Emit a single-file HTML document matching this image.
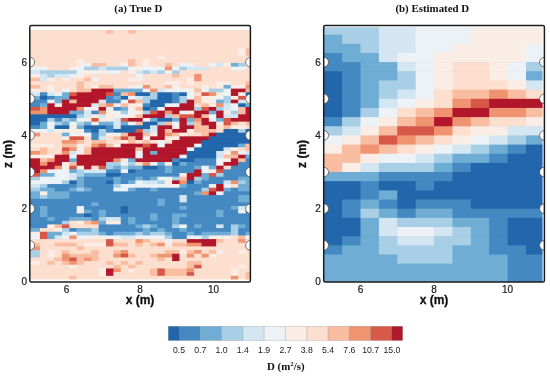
<!DOCTYPE html>
<html lang="en">
<head>
<meta charset="utf-8">
<title>True D and Estimated D</title>
<style>
html,body{margin:0;padding:0;background:#fff;}
body{width:550px;height:376px;overflow:hidden;}
svg{display:block;}
.tt{font-family:"Liberation Serif","DejaVu Serif",serif;font-weight:bold;font-size:10.9px;fill:#111;}
.tk{font-family:"Liberation Sans","DejaVu Sans",sans-serif;font-size:10px;fill:#1a1a1a;stroke:#1a1a1a;stroke-width:0.2px;}
.ax{font-family:"Liberation Sans","DejaVu Sans",sans-serif;font-weight:bold;font-size:12px;fill:#111;stroke:#111;stroke-width:0.3px;}
.cl{font-family:"Liberation Sans","DejaVu Sans",sans-serif;font-size:8.7px;fill:#222;}
.cb{font-family:"Liberation Serif","DejaVu Serif",serif;font-weight:bold;font-size:10.9px;fill:#111;}
</style>
</head>
<body>
<svg width="550" height="376" viewBox="0 0 550 376">
<defs>
<clipPath id="cl"><rect x="29.8" y="25.5" width="220.6" height="256.5"/></clipPath>
<clipPath id="cr"><rect x="323.7" y="25.5" width="220.7" height="256.5"/></clipPath>
<clipPath id="dl"><rect x="29.8" y="29.9" width="220.6" height="249.6"/></clipPath>
<clipPath id="dr"><rect x="323.7" y="27.2" width="218.9" height="254.8"/></clipPath>
<filter id="soft" x="-2%" y="-2%" width="104%" height="104%"><feGaussianBlur stdDeviation="0.45"/></filter>
</defs>
<rect width="550" height="376" fill="#fff"/>

<!-- panel (a) -->
<text x="138.3" y="12.4" text-anchor="middle" class="tt">(a) True D</text>
<g clip-path="url(#dl)"><g filter="url(#soft)">
<rect x="29.8" y="29.9" width="220.6" height="249.6" fill="#fddfcf"/>
<rect x="26.8" y="26.9" width="79.83" height="7.27" fill="#fddfcf"/>
<rect x="106.03" y="26.9" width="7.94" height="7.27" fill="#f9bea2"/>
<rect x="113.37" y="26.9" width="15.29" height="7.27" fill="#fddfcf"/>
<rect x="128.06" y="26.9" width="7.94" height="7.27" fill="#f9bea2"/>
<rect x="135.4" y="26.9" width="118.6" height="7.27" fill="#fddfcf"/>
<rect x="26.8" y="33.57" width="227.2" height="4.27" fill="#fddfcf"/>
<rect x="26.8" y="37.24" width="227.2" height="4.27" fill="#fddfcf"/>
<rect x="26.8" y="40.91" width="227.2" height="4.27" fill="#fddfcf"/>
<rect x="26.8" y="44.58" width="227.2" height="4.27" fill="#fddfcf"/>
<rect x="26.8" y="48.25" width="212" height="4.27" fill="#fddfcf"/>
<rect x="238.2" y="48.25" width="7.94" height="4.27" fill="#faede6"/>
<rect x="245.55" y="48.25" width="8.45" height="4.27" fill="#f9bea2"/>
<rect x="26.8" y="51.92" width="212" height="4.27" fill="#fddfcf"/>
<rect x="238.2" y="51.92" width="7.94" height="4.27" fill="#faede6"/>
<rect x="245.55" y="51.92" width="8.45" height="4.27" fill="#f9bea2"/>
<rect x="26.8" y="55.59" width="131.23" height="4.27" fill="#fddfcf"/>
<rect x="157.43" y="55.59" width="7.94" height="4.27" fill="#faede6"/>
<rect x="164.77" y="55.59" width="89.23" height="4.27" fill="#fddfcf"/>
<rect x="26.8" y="59.26" width="50.46" height="4.27" fill="#fddfcf"/>
<rect x="76.66" y="59.26" width="7.94" height="4.27" fill="#faede6"/>
<rect x="84" y="59.26" width="44.66" height="4.27" fill="#fddfcf"/>
<rect x="128.06" y="59.26" width="7.94" height="4.27" fill="#f9bea2"/>
<rect x="135.4" y="59.26" width="7.94" height="4.27" fill="#fddfcf"/>
<rect x="142.75" y="59.26" width="7.94" height="4.27" fill="#faede6"/>
<rect x="150.09" y="59.26" width="103.91" height="4.27" fill="#fddfcf"/>
<rect x="26.8" y="62.93" width="50.46" height="4.27" fill="#fddfcf"/>
<rect x="76.66" y="62.93" width="7.94" height="4.27" fill="#faede6"/>
<rect x="84" y="62.93" width="7.94" height="4.27" fill="#ecf2f6"/>
<rect x="91.34" y="62.93" width="15.29" height="4.27" fill="#f9bea2"/>
<rect x="106.03" y="62.93" width="15.29" height="4.27" fill="#fddfcf"/>
<rect x="120.72" y="62.93" width="7.94" height="4.27" fill="#ecf2f6"/>
<rect x="128.06" y="62.93" width="7.94" height="4.27" fill="#f9bea2"/>
<rect x="135.4" y="62.93" width="7.94" height="4.27" fill="#fddfcf"/>
<rect x="142.75" y="62.93" width="7.94" height="4.27" fill="#faede6"/>
<rect x="150.09" y="62.93" width="15.29" height="4.27" fill="#fddfcf"/>
<rect x="164.77" y="62.93" width="7.94" height="4.27" fill="#f9bea2"/>
<rect x="172.12" y="62.93" width="7.94" height="4.27" fill="#fddfcf"/>
<rect x="179.46" y="62.93" width="15.29" height="4.27" fill="#ecf2f6"/>
<rect x="194.15" y="62.93" width="15.29" height="4.27" fill="#fddfcf"/>
<rect x="208.83" y="62.93" width="7.94" height="4.27" fill="#ecf2f6"/>
<rect x="216.17" y="62.93" width="7.94" height="4.27" fill="#d4e6f1"/>
<rect x="223.52" y="62.93" width="7.94" height="4.27" fill="#faede6"/>
<rect x="230.86" y="62.93" width="7.94" height="4.27" fill="#6fadd4"/>
<rect x="238.2" y="62.93" width="7.94" height="4.27" fill="#a9cfe6"/>
<rect x="245.55" y="62.93" width="8.45" height="4.27" fill="#fddfcf"/>
<rect x="26.8" y="66.6" width="21.09" height="4.27" fill="#ecf2f6"/>
<rect x="47.29" y="66.6" width="22.63" height="4.27" fill="#fddfcf"/>
<rect x="69.31" y="66.6" width="7.94" height="4.27" fill="#faede6"/>
<rect x="76.66" y="66.6" width="7.94" height="4.27" fill="#ecf2f6"/>
<rect x="84" y="66.6" width="15.29" height="4.27" fill="#a9cfe6"/>
<rect x="98.69" y="66.6" width="7.94" height="4.27" fill="#d4e6f1"/>
<rect x="106.03" y="66.6" width="22.63" height="4.27" fill="#a9cfe6"/>
<rect x="128.06" y="66.6" width="7.94" height="4.27" fill="#ecf2f6"/>
<rect x="135.4" y="66.6" width="7.94" height="4.27" fill="#faede6"/>
<rect x="142.75" y="66.6" width="22.63" height="4.27" fill="#ecf2f6"/>
<rect x="164.77" y="66.6" width="7.94" height="4.27" fill="#f0936f"/>
<rect x="172.12" y="66.6" width="7.94" height="4.27" fill="#ecf2f6"/>
<rect x="179.46" y="66.6" width="7.94" height="4.27" fill="#a9cfe6"/>
<rect x="186.8" y="66.6" width="22.63" height="4.27" fill="#d4e6f1"/>
<rect x="208.83" y="66.6" width="22.63" height="4.27" fill="#fddfcf"/>
<rect x="230.86" y="66.6" width="15.29" height="4.27" fill="#ecf2f6"/>
<rect x="245.55" y="66.6" width="8.45" height="4.27" fill="#fddfcf"/>
<rect x="26.8" y="70.27" width="13.74" height="4.27" fill="#d4e6f1"/>
<rect x="39.94" y="70.27" width="37.32" height="4.27" fill="#a9cfe6"/>
<rect x="76.66" y="70.27" width="7.94" height="4.27" fill="#ecf2f6"/>
<rect x="84" y="70.27" width="7.94" height="4.27" fill="#faede6"/>
<rect x="91.34" y="70.27" width="7.94" height="4.27" fill="#ecf2f6"/>
<rect x="98.69" y="70.27" width="7.94" height="4.27" fill="#faede6"/>
<rect x="106.03" y="70.27" width="15.29" height="4.27" fill="#ecf2f6"/>
<rect x="120.72" y="70.27" width="7.94" height="4.27" fill="#fddfcf"/>
<rect x="128.06" y="70.27" width="7.94" height="4.27" fill="#faede6"/>
<rect x="135.4" y="70.27" width="7.94" height="4.27" fill="#d4e6f1"/>
<rect x="142.75" y="70.27" width="7.94" height="4.27" fill="#a9cfe6"/>
<rect x="150.09" y="70.27" width="7.94" height="4.27" fill="#d4e6f1"/>
<rect x="157.43" y="70.27" width="7.94" height="4.27" fill="#a9cfe6"/>
<rect x="164.77" y="70.27" width="7.94" height="4.27" fill="#faede6"/>
<rect x="172.12" y="70.27" width="7.94" height="4.27" fill="#a9cfe6"/>
<rect x="179.46" y="70.27" width="74.54" height="4.27" fill="#fddfcf"/>
<rect x="26.8" y="73.94" width="13.74" height="4.27" fill="#faede6"/>
<rect x="39.94" y="73.94" width="7.94" height="4.27" fill="#d4e6f1"/>
<rect x="47.29" y="73.94" width="7.94" height="4.27" fill="#a9cfe6"/>
<rect x="54.63" y="73.94" width="15.29" height="4.27" fill="#d4e6f1"/>
<rect x="69.31" y="73.94" width="7.94" height="4.27" fill="#ecf2f6"/>
<rect x="76.66" y="73.94" width="7.94" height="4.27" fill="#faede6"/>
<rect x="84" y="73.94" width="52" height="4.27" fill="#fddfcf"/>
<rect x="135.4" y="73.94" width="7.94" height="4.27" fill="#ecf2f6"/>
<rect x="142.75" y="73.94" width="29.97" height="4.27" fill="#fddfcf"/>
<rect x="172.12" y="73.94" width="7.94" height="4.27" fill="#f9bea2"/>
<rect x="179.46" y="73.94" width="15.29" height="4.27" fill="#fddfcf"/>
<rect x="194.15" y="73.94" width="7.94" height="4.27" fill="#f0936f"/>
<rect x="201.49" y="73.94" width="52.51" height="4.27" fill="#fddfcf"/>
<rect x="26.8" y="77.61" width="13.74" height="4.27" fill="#f9bea2"/>
<rect x="39.94" y="77.61" width="7.94" height="4.27" fill="#d4e6f1"/>
<rect x="47.29" y="77.61" width="7.94" height="4.27" fill="#faede6"/>
<rect x="54.63" y="77.61" width="7.94" height="4.27" fill="#fddfcf"/>
<rect x="61.97" y="77.61" width="7.94" height="4.27" fill="#faede6"/>
<rect x="69.31" y="77.61" width="15.29" height="4.27" fill="#fddfcf"/>
<rect x="84" y="77.61" width="7.94" height="4.27" fill="#f9bea2"/>
<rect x="91.34" y="77.61" width="7.94" height="4.27" fill="#ecf2f6"/>
<rect x="98.69" y="77.61" width="29.97" height="4.27" fill="#fddfcf"/>
<rect x="128.06" y="77.61" width="15.29" height="4.27" fill="#faede6"/>
<rect x="142.75" y="77.61" width="44.66" height="4.27" fill="#fddfcf"/>
<rect x="186.8" y="77.61" width="7.94" height="4.27" fill="#faede6"/>
<rect x="194.15" y="77.61" width="7.94" height="4.27" fill="#f0936f"/>
<rect x="201.49" y="77.61" width="52.51" height="4.27" fill="#fddfcf"/>
<rect x="26.8" y="81.28" width="50.46" height="4.27" fill="#fddfcf"/>
<rect x="76.66" y="81.28" width="7.94" height="4.27" fill="#f9bea2"/>
<rect x="84" y="81.28" width="81.37" height="4.27" fill="#fddfcf"/>
<rect x="164.77" y="81.28" width="15.29" height="4.27" fill="#faede6"/>
<rect x="179.46" y="81.28" width="7.94" height="4.27" fill="#fddfcf"/>
<rect x="186.8" y="81.28" width="7.94" height="4.27" fill="#faede6"/>
<rect x="194.15" y="81.28" width="22.63" height="4.27" fill="#fddfcf"/>
<rect x="216.17" y="81.28" width="15.29" height="4.27" fill="#faede6"/>
<rect x="230.86" y="81.28" width="15.29" height="4.27" fill="#fddfcf"/>
<rect x="245.55" y="81.28" width="8.45" height="4.27" fill="#f9bea2"/>
<rect x="26.8" y="84.95" width="13.74" height="4.27" fill="#f9bea2"/>
<rect x="39.94" y="84.95" width="7.94" height="4.27" fill="#fddfcf"/>
<rect x="47.29" y="84.95" width="7.94" height="4.27" fill="#faede6"/>
<rect x="54.63" y="84.95" width="22.63" height="4.27" fill="#fddfcf"/>
<rect x="76.66" y="84.95" width="7.94" height="4.27" fill="#f9bea2"/>
<rect x="84" y="84.95" width="7.94" height="4.27" fill="#fddfcf"/>
<rect x="91.34" y="84.95" width="7.94" height="4.27" fill="#faede6"/>
<rect x="98.69" y="84.95" width="15.29" height="4.27" fill="#f9bea2"/>
<rect x="113.37" y="84.95" width="15.29" height="4.27" fill="#fddfcf"/>
<rect x="128.06" y="84.95" width="7.94" height="4.27" fill="#faede6"/>
<rect x="135.4" y="84.95" width="7.94" height="4.27" fill="#ecf2f6"/>
<rect x="142.75" y="84.95" width="7.94" height="4.27" fill="#f0936f"/>
<rect x="150.09" y="84.95" width="15.29" height="4.27" fill="#fddfcf"/>
<rect x="164.77" y="84.95" width="7.94" height="4.27" fill="#f9bea2"/>
<rect x="172.12" y="84.95" width="7.94" height="4.27" fill="#faede6"/>
<rect x="179.46" y="84.95" width="22.63" height="4.27" fill="#fddfcf"/>
<rect x="201.49" y="84.95" width="7.94" height="4.27" fill="#faede6"/>
<rect x="208.83" y="84.95" width="7.94" height="4.27" fill="#fddfcf"/>
<rect x="216.17" y="84.95" width="7.94" height="4.27" fill="#faede6"/>
<rect x="223.52" y="84.95" width="7.94" height="4.27" fill="#6fadd4"/>
<rect x="230.86" y="84.95" width="15.29" height="4.27" fill="#faede6"/>
<rect x="245.55" y="84.95" width="8.45" height="4.27" fill="#f0936f"/>
<rect x="26.8" y="88.62" width="13.74" height="4.27" fill="#faede6"/>
<rect x="39.94" y="88.62" width="7.94" height="4.27" fill="#fddfcf"/>
<rect x="47.29" y="88.62" width="7.94" height="4.27" fill="#faede6"/>
<rect x="54.63" y="88.62" width="7.94" height="4.27" fill="#fddfcf"/>
<rect x="61.97" y="88.62" width="7.94" height="4.27" fill="#ecf2f6"/>
<rect x="69.31" y="88.62" width="7.94" height="4.27" fill="#fddfcf"/>
<rect x="76.66" y="88.62" width="15.29" height="4.27" fill="#f9bea2"/>
<rect x="91.34" y="88.62" width="22.63" height="4.27" fill="#b2182b"/>
<rect x="113.37" y="88.62" width="29.97" height="4.27" fill="#6fadd4"/>
<rect x="142.75" y="88.62" width="7.94" height="4.27" fill="#ecf2f6"/>
<rect x="150.09" y="88.62" width="7.94" height="4.27" fill="#f0936f"/>
<rect x="157.43" y="88.62" width="7.94" height="4.27" fill="#d4e6f1"/>
<rect x="164.77" y="88.62" width="29.97" height="4.27" fill="#ecf2f6"/>
<rect x="194.15" y="88.62" width="7.94" height="4.27" fill="#f9bea2"/>
<rect x="201.49" y="88.62" width="7.94" height="4.27" fill="#ecf2f6"/>
<rect x="208.83" y="88.62" width="15.29" height="4.27" fill="#a9cfe6"/>
<rect x="223.52" y="88.62" width="7.94" height="4.27" fill="#ecf2f6"/>
<rect x="230.86" y="88.62" width="15.29" height="4.27" fill="#b2182b"/>
<rect x="245.55" y="88.62" width="8.45" height="4.27" fill="#f9bea2"/>
<rect x="26.8" y="92.29" width="13.74" height="4.27" fill="#d4e6f1"/>
<rect x="39.94" y="92.29" width="7.94" height="4.27" fill="#4489c2"/>
<rect x="47.29" y="92.29" width="7.94" height="4.27" fill="#d4e6f1"/>
<rect x="54.63" y="92.29" width="7.94" height="4.27" fill="#ecf2f6"/>
<rect x="61.97" y="92.29" width="7.94" height="4.27" fill="#6fadd4"/>
<rect x="69.31" y="92.29" width="7.94" height="4.27" fill="#d75949"/>
<rect x="76.66" y="92.29" width="29.97" height="4.27" fill="#b2182b"/>
<rect x="106.03" y="92.29" width="7.94" height="4.27" fill="#d75949"/>
<rect x="113.37" y="92.29" width="7.94" height="4.27" fill="#4489c2"/>
<rect x="120.72" y="92.29" width="7.94" height="4.27" fill="#f9bea2"/>
<rect x="128.06" y="92.29" width="7.94" height="4.27" fill="#f0936f"/>
<rect x="135.4" y="92.29" width="15.29" height="4.27" fill="#2166ac"/>
<rect x="150.09" y="92.29" width="7.94" height="4.27" fill="#a9cfe6"/>
<rect x="157.43" y="92.29" width="15.29" height="4.27" fill="#2166ac"/>
<rect x="172.12" y="92.29" width="7.94" height="4.27" fill="#4489c2"/>
<rect x="179.46" y="92.29" width="7.94" height="4.27" fill="#2166ac"/>
<rect x="186.8" y="92.29" width="7.94" height="4.27" fill="#ecf2f6"/>
<rect x="194.15" y="92.29" width="7.94" height="4.27" fill="#fddfcf"/>
<rect x="201.49" y="92.29" width="7.94" height="4.27" fill="#d75949"/>
<rect x="208.83" y="92.29" width="7.94" height="4.27" fill="#f0936f"/>
<rect x="216.17" y="92.29" width="7.94" height="4.27" fill="#faede6"/>
<rect x="223.52" y="92.29" width="7.94" height="4.27" fill="#ecf2f6"/>
<rect x="230.86" y="92.29" width="7.94" height="4.27" fill="#b2182b"/>
<rect x="238.2" y="92.29" width="7.94" height="4.27" fill="#faede6"/>
<rect x="245.55" y="92.29" width="8.45" height="4.27" fill="#2166ac"/>
<rect x="26.8" y="95.96" width="13.74" height="4.27" fill="#6fadd4"/>
<rect x="39.94" y="95.96" width="7.94" height="4.27" fill="#2166ac"/>
<rect x="47.29" y="95.96" width="7.94" height="4.27" fill="#4489c2"/>
<rect x="54.63" y="95.96" width="15.29" height="4.27" fill="#6fadd4"/>
<rect x="69.31" y="95.96" width="37.32" height="4.27" fill="#b2182b"/>
<rect x="106.03" y="95.96" width="7.94" height="4.27" fill="#4489c2"/>
<rect x="113.37" y="95.96" width="7.94" height="4.27" fill="#6fadd4"/>
<rect x="120.72" y="95.96" width="7.94" height="4.27" fill="#2166ac"/>
<rect x="128.06" y="95.96" width="7.94" height="4.27" fill="#ecf2f6"/>
<rect x="135.4" y="95.96" width="7.94" height="4.27" fill="#d4e6f1"/>
<rect x="142.75" y="95.96" width="15.29" height="4.27" fill="#a9cfe6"/>
<rect x="157.43" y="95.96" width="15.29" height="4.27" fill="#2166ac"/>
<rect x="172.12" y="95.96" width="7.94" height="4.27" fill="#4489c2"/>
<rect x="179.46" y="95.96" width="7.94" height="4.27" fill="#a9cfe6"/>
<rect x="186.8" y="95.96" width="7.94" height="4.27" fill="#ecf2f6"/>
<rect x="194.15" y="95.96" width="7.94" height="4.27" fill="#f9bea2"/>
<rect x="201.49" y="95.96" width="15.29" height="4.27" fill="#faede6"/>
<rect x="216.17" y="95.96" width="7.94" height="4.27" fill="#ecf2f6"/>
<rect x="223.52" y="95.96" width="7.94" height="4.27" fill="#a9cfe6"/>
<rect x="230.86" y="95.96" width="7.94" height="4.27" fill="#faede6"/>
<rect x="238.2" y="95.96" width="7.94" height="4.27" fill="#d75949"/>
<rect x="245.55" y="95.96" width="8.45" height="4.27" fill="#ecf2f6"/>
<rect x="26.8" y="99.63" width="21.09" height="4.27" fill="#4489c2"/>
<rect x="47.29" y="99.63" width="7.94" height="4.27" fill="#ecf2f6"/>
<rect x="54.63" y="99.63" width="7.94" height="4.27" fill="#6fadd4"/>
<rect x="61.97" y="99.63" width="7.94" height="4.27" fill="#b2182b"/>
<rect x="69.31" y="99.63" width="7.94" height="4.27" fill="#f9bea2"/>
<rect x="76.66" y="99.63" width="22.63" height="4.27" fill="#b2182b"/>
<rect x="98.69" y="99.63" width="7.94" height="4.27" fill="#d4e6f1"/>
<rect x="106.03" y="99.63" width="15.29" height="4.27" fill="#4489c2"/>
<rect x="120.72" y="99.63" width="7.94" height="4.27" fill="#ecf2f6"/>
<rect x="128.06" y="99.63" width="7.94" height="4.27" fill="#d75949"/>
<rect x="135.4" y="99.63" width="7.94" height="4.27" fill="#f9bea2"/>
<rect x="142.75" y="99.63" width="7.94" height="4.27" fill="#a9cfe6"/>
<rect x="150.09" y="99.63" width="22.63" height="4.27" fill="#2166ac"/>
<rect x="172.12" y="99.63" width="7.94" height="4.27" fill="#4489c2"/>
<rect x="179.46" y="99.63" width="7.94" height="4.27" fill="#a9cfe6"/>
<rect x="186.8" y="99.63" width="7.94" height="4.27" fill="#b2182b"/>
<rect x="194.15" y="99.63" width="7.94" height="4.27" fill="#f9bea2"/>
<rect x="201.49" y="99.63" width="15.29" height="4.27" fill="#faede6"/>
<rect x="216.17" y="99.63" width="7.94" height="4.27" fill="#6fadd4"/>
<rect x="223.52" y="99.63" width="7.94" height="4.27" fill="#a9cfe6"/>
<rect x="230.86" y="99.63" width="7.94" height="4.27" fill="#b2182b"/>
<rect x="238.2" y="99.63" width="7.94" height="4.27" fill="#d4e6f1"/>
<rect x="245.55" y="99.63" width="8.45" height="4.27" fill="#ecf2f6"/>
<rect x="26.8" y="103.3" width="13.74" height="4.27" fill="#4489c2"/>
<rect x="39.94" y="103.3" width="7.94" height="4.27" fill="#6fadd4"/>
<rect x="47.29" y="103.3" width="7.94" height="4.27" fill="#b2182b"/>
<rect x="54.63" y="103.3" width="7.94" height="4.27" fill="#faede6"/>
<rect x="61.97" y="103.3" width="29.97" height="4.27" fill="#b2182b"/>
<rect x="91.34" y="103.3" width="7.94" height="4.27" fill="#d4e6f1"/>
<rect x="98.69" y="103.3" width="7.94" height="4.27" fill="#f9bea2"/>
<rect x="106.03" y="103.3" width="7.94" height="4.27" fill="#f0936f"/>
<rect x="113.37" y="103.3" width="7.94" height="4.27" fill="#faede6"/>
<rect x="120.72" y="103.3" width="7.94" height="4.27" fill="#f9bea2"/>
<rect x="128.06" y="103.3" width="15.29" height="4.27" fill="#faede6"/>
<rect x="142.75" y="103.3" width="7.94" height="4.27" fill="#4489c2"/>
<rect x="150.09" y="103.3" width="15.29" height="4.27" fill="#2166ac"/>
<rect x="164.77" y="103.3" width="15.29" height="4.27" fill="#ecf2f6"/>
<rect x="179.46" y="103.3" width="15.29" height="4.27" fill="#b2182b"/>
<rect x="194.15" y="103.3" width="7.94" height="4.27" fill="#fddfcf"/>
<rect x="201.49" y="103.3" width="7.94" height="4.27" fill="#f9bea2"/>
<rect x="208.83" y="103.3" width="7.94" height="4.27" fill="#faede6"/>
<rect x="216.17" y="103.3" width="7.94" height="4.27" fill="#f0936f"/>
<rect x="223.52" y="103.3" width="7.94" height="4.27" fill="#d4e6f1"/>
<rect x="230.86" y="103.3" width="7.94" height="4.27" fill="#ecf2f6"/>
<rect x="238.2" y="103.3" width="7.94" height="4.27" fill="#2166ac"/>
<rect x="245.55" y="103.3" width="8.45" height="4.27" fill="#6fadd4"/>
<rect x="26.8" y="106.97" width="13.74" height="4.27" fill="#d75949"/>
<rect x="39.94" y="106.97" width="7.94" height="4.27" fill="#f0936f"/>
<rect x="47.29" y="106.97" width="29.97" height="4.27" fill="#b2182b"/>
<rect x="76.66" y="106.97" width="7.94" height="4.27" fill="#f0936f"/>
<rect x="84" y="106.97" width="7.94" height="4.27" fill="#ecf2f6"/>
<rect x="91.34" y="106.97" width="7.94" height="4.27" fill="#faede6"/>
<rect x="98.69" y="106.97" width="7.94" height="4.27" fill="#b2182b"/>
<rect x="106.03" y="106.97" width="7.94" height="4.27" fill="#ecf2f6"/>
<rect x="113.37" y="106.97" width="7.94" height="4.27" fill="#4489c2"/>
<rect x="120.72" y="106.97" width="7.94" height="4.27" fill="#6fadd4"/>
<rect x="128.06" y="106.97" width="7.94" height="4.27" fill="#faede6"/>
<rect x="135.4" y="106.97" width="7.94" height="4.27" fill="#f9bea2"/>
<rect x="142.75" y="106.97" width="7.94" height="4.27" fill="#2166ac"/>
<rect x="150.09" y="106.97" width="7.94" height="4.27" fill="#4489c2"/>
<rect x="157.43" y="106.97" width="7.94" height="4.27" fill="#ecf2f6"/>
<rect x="164.77" y="106.97" width="29.97" height="4.27" fill="#b2182b"/>
<rect x="194.15" y="106.97" width="7.94" height="4.27" fill="#a9cfe6"/>
<rect x="201.49" y="106.97" width="7.94" height="4.27" fill="#d75949"/>
<rect x="208.83" y="106.97" width="7.94" height="4.27" fill="#b2182b"/>
<rect x="216.17" y="106.97" width="7.94" height="4.27" fill="#a9cfe6"/>
<rect x="223.52" y="106.97" width="7.94" height="4.27" fill="#d4e6f1"/>
<rect x="230.86" y="106.97" width="7.94" height="4.27" fill="#ecf2f6"/>
<rect x="238.2" y="106.97" width="7.94" height="4.27" fill="#f9bea2"/>
<rect x="245.55" y="106.97" width="8.45" height="4.27" fill="#b2182b"/>
<rect x="26.8" y="110.64" width="21.09" height="4.27" fill="#f0936f"/>
<rect x="47.29" y="110.64" width="22.63" height="4.27" fill="#b2182b"/>
<rect x="69.31" y="110.64" width="15.29" height="4.27" fill="#6fadd4"/>
<rect x="84" y="110.64" width="7.94" height="4.27" fill="#d4e6f1"/>
<rect x="91.34" y="110.64" width="7.94" height="4.27" fill="#4489c2"/>
<rect x="98.69" y="110.64" width="7.94" height="4.27" fill="#f0936f"/>
<rect x="106.03" y="110.64" width="7.94" height="4.27" fill="#faede6"/>
<rect x="113.37" y="110.64" width="7.94" height="4.27" fill="#ecf2f6"/>
<rect x="120.72" y="110.64" width="7.94" height="4.27" fill="#a9cfe6"/>
<rect x="128.06" y="110.64" width="7.94" height="4.27" fill="#ecf2f6"/>
<rect x="135.4" y="110.64" width="7.94" height="4.27" fill="#faede6"/>
<rect x="142.75" y="110.64" width="7.94" height="4.27" fill="#a9cfe6"/>
<rect x="150.09" y="110.64" width="7.94" height="4.27" fill="#d75949"/>
<rect x="157.43" y="110.64" width="7.94" height="4.27" fill="#b2182b"/>
<rect x="164.77" y="110.64" width="7.94" height="4.27" fill="#f0936f"/>
<rect x="172.12" y="110.64" width="7.94" height="4.27" fill="#b2182b"/>
<rect x="179.46" y="110.64" width="7.94" height="4.27" fill="#ecf2f6"/>
<rect x="186.8" y="110.64" width="7.94" height="4.27" fill="#faede6"/>
<rect x="194.15" y="110.64" width="15.29" height="4.27" fill="#b2182b"/>
<rect x="208.83" y="110.64" width="7.94" height="4.27" fill="#6fadd4"/>
<rect x="216.17" y="110.64" width="7.94" height="4.27" fill="#b2182b"/>
<rect x="223.52" y="110.64" width="7.94" height="4.27" fill="#faede6"/>
<rect x="230.86" y="110.64" width="7.94" height="4.27" fill="#a9cfe6"/>
<rect x="238.2" y="110.64" width="7.94" height="4.27" fill="#f9bea2"/>
<rect x="245.55" y="110.64" width="8.45" height="4.27" fill="#b2182b"/>
<rect x="26.8" y="114.31" width="50.46" height="4.27" fill="#2166ac"/>
<rect x="76.66" y="114.31" width="7.94" height="4.27" fill="#a9cfe6"/>
<rect x="84" y="114.31" width="7.94" height="4.27" fill="#d4e6f1"/>
<rect x="91.34" y="114.31" width="7.94" height="4.27" fill="#faede6"/>
<rect x="98.69" y="114.31" width="7.94" height="4.27" fill="#d4e6f1"/>
<rect x="106.03" y="114.31" width="15.29" height="4.27" fill="#faede6"/>
<rect x="120.72" y="114.31" width="7.94" height="4.27" fill="#ecf2f6"/>
<rect x="128.06" y="114.31" width="7.94" height="4.27" fill="#faede6"/>
<rect x="135.4" y="114.31" width="7.94" height="4.27" fill="#f9bea2"/>
<rect x="142.75" y="114.31" width="22.63" height="4.27" fill="#b2182b"/>
<rect x="164.77" y="114.31" width="7.94" height="4.27" fill="#a9cfe6"/>
<rect x="172.12" y="114.31" width="7.94" height="4.27" fill="#f9bea2"/>
<rect x="179.46" y="114.31" width="15.29" height="4.27" fill="#d75949"/>
<rect x="194.15" y="114.31" width="7.94" height="4.27" fill="#b2182b"/>
<rect x="201.49" y="114.31" width="7.94" height="4.27" fill="#f9bea2"/>
<rect x="208.83" y="114.31" width="7.94" height="4.27" fill="#ecf2f6"/>
<rect x="216.17" y="114.31" width="7.94" height="4.27" fill="#b2182b"/>
<rect x="223.52" y="114.31" width="15.29" height="4.27" fill="#d4e6f1"/>
<rect x="238.2" y="114.31" width="15.8" height="4.27" fill="#b2182b"/>
<rect x="26.8" y="117.98" width="21.09" height="4.27" fill="#2166ac"/>
<rect x="47.29" y="117.98" width="7.94" height="4.27" fill="#a9cfe6"/>
<rect x="54.63" y="117.98" width="7.94" height="4.27" fill="#4489c2"/>
<rect x="61.97" y="117.98" width="7.94" height="4.27" fill="#a9cfe6"/>
<rect x="69.31" y="117.98" width="7.94" height="4.27" fill="#6fadd4"/>
<rect x="76.66" y="117.98" width="7.94" height="4.27" fill="#ecf2f6"/>
<rect x="84" y="117.98" width="7.94" height="4.27" fill="#faede6"/>
<rect x="91.34" y="117.98" width="7.94" height="4.27" fill="#d75949"/>
<rect x="98.69" y="117.98" width="15.29" height="4.27" fill="#faede6"/>
<rect x="113.37" y="117.98" width="7.94" height="4.27" fill="#d4e6f1"/>
<rect x="120.72" y="117.98" width="7.94" height="4.27" fill="#d75949"/>
<rect x="128.06" y="117.98" width="15.29" height="4.27" fill="#b2182b"/>
<rect x="142.75" y="117.98" width="7.94" height="4.27" fill="#faede6"/>
<rect x="150.09" y="117.98" width="7.94" height="4.27" fill="#6fadd4"/>
<rect x="157.43" y="117.98" width="15.29" height="4.27" fill="#2166ac"/>
<rect x="172.12" y="117.98" width="7.94" height="4.27" fill="#6fadd4"/>
<rect x="179.46" y="117.98" width="7.94" height="4.27" fill="#b2182b"/>
<rect x="186.8" y="117.98" width="7.94" height="4.27" fill="#6fadd4"/>
<rect x="194.15" y="117.98" width="7.94" height="4.27" fill="#f0936f"/>
<rect x="201.49" y="117.98" width="7.94" height="4.27" fill="#b2182b"/>
<rect x="208.83" y="117.98" width="7.94" height="4.27" fill="#ecf2f6"/>
<rect x="216.17" y="117.98" width="7.94" height="4.27" fill="#6fadd4"/>
<rect x="223.52" y="117.98" width="7.94" height="4.27" fill="#d75949"/>
<rect x="230.86" y="117.98" width="23.14" height="4.27" fill="#b2182b"/>
<rect x="26.8" y="121.65" width="13.74" height="4.27" fill="#2166ac"/>
<rect x="39.94" y="121.65" width="7.94" height="4.27" fill="#6fadd4"/>
<rect x="47.29" y="121.65" width="7.94" height="4.27" fill="#ecf2f6"/>
<rect x="54.63" y="121.65" width="7.94" height="4.27" fill="#a9cfe6"/>
<rect x="61.97" y="121.65" width="7.94" height="4.27" fill="#6fadd4"/>
<rect x="69.31" y="121.65" width="7.94" height="4.27" fill="#ecf2f6"/>
<rect x="76.66" y="121.65" width="7.94" height="4.27" fill="#a9cfe6"/>
<rect x="84" y="121.65" width="7.94" height="4.27" fill="#6fadd4"/>
<rect x="91.34" y="121.65" width="7.94" height="4.27" fill="#faede6"/>
<rect x="98.69" y="121.65" width="15.29" height="4.27" fill="#6fadd4"/>
<rect x="113.37" y="121.65" width="7.94" height="4.27" fill="#d4e6f1"/>
<rect x="120.72" y="121.65" width="7.94" height="4.27" fill="#6fadd4"/>
<rect x="128.06" y="121.65" width="7.94" height="4.27" fill="#ecf2f6"/>
<rect x="135.4" y="121.65" width="7.94" height="4.27" fill="#f9bea2"/>
<rect x="142.75" y="121.65" width="15.29" height="4.27" fill="#2166ac"/>
<rect x="157.43" y="121.65" width="7.94" height="4.27" fill="#a9cfe6"/>
<rect x="164.77" y="121.65" width="7.94" height="4.27" fill="#f9bea2"/>
<rect x="172.12" y="121.65" width="7.94" height="4.27" fill="#ecf2f6"/>
<rect x="179.46" y="121.65" width="7.94" height="4.27" fill="#b2182b"/>
<rect x="186.8" y="121.65" width="7.94" height="4.27" fill="#a9cfe6"/>
<rect x="194.15" y="121.65" width="7.94" height="4.27" fill="#f9bea2"/>
<rect x="201.49" y="121.65" width="15.29" height="4.27" fill="#b2182b"/>
<rect x="216.17" y="121.65" width="7.94" height="4.27" fill="#faede6"/>
<rect x="223.52" y="121.65" width="7.94" height="4.27" fill="#d75949"/>
<rect x="230.86" y="121.65" width="7.94" height="4.27" fill="#f9bea2"/>
<rect x="238.2" y="121.65" width="7.94" height="4.27" fill="#fddfcf"/>
<rect x="245.55" y="121.65" width="8.45" height="4.27" fill="#f9bea2"/>
<rect x="26.8" y="125.32" width="13.74" height="4.27" fill="#4489c2"/>
<rect x="39.94" y="125.32" width="7.94" height="4.27" fill="#6fadd4"/>
<rect x="47.29" y="125.32" width="7.94" height="4.27" fill="#ecf2f6"/>
<rect x="54.63" y="125.32" width="15.29" height="4.27" fill="#2166ac"/>
<rect x="69.31" y="125.32" width="7.94" height="4.27" fill="#faede6"/>
<rect x="76.66" y="125.32" width="7.94" height="4.27" fill="#6fadd4"/>
<rect x="84" y="125.32" width="22.63" height="4.27" fill="#2166ac"/>
<rect x="106.03" y="125.32" width="7.94" height="4.27" fill="#4489c2"/>
<rect x="113.37" y="125.32" width="7.94" height="4.27" fill="#d4e6f1"/>
<rect x="120.72" y="125.32" width="29.97" height="4.27" fill="#2166ac"/>
<rect x="150.09" y="125.32" width="7.94" height="4.27" fill="#d4e6f1"/>
<rect x="157.43" y="125.32" width="15.29" height="4.27" fill="#b2182b"/>
<rect x="172.12" y="125.32" width="7.94" height="4.27" fill="#faede6"/>
<rect x="179.46" y="125.32" width="15.29" height="4.27" fill="#b2182b"/>
<rect x="194.15" y="125.32" width="15.29" height="4.27" fill="#f9bea2"/>
<rect x="208.83" y="125.32" width="7.94" height="4.27" fill="#b2182b"/>
<rect x="216.17" y="125.32" width="7.94" height="4.27" fill="#fddfcf"/>
<rect x="223.52" y="125.32" width="7.94" height="4.27" fill="#f9bea2"/>
<rect x="230.86" y="125.32" width="15.29" height="4.27" fill="#faede6"/>
<rect x="245.55" y="125.32" width="8.45" height="4.27" fill="#fddfcf"/>
<rect x="26.8" y="128.99" width="21.09" height="4.27" fill="#ecf2f6"/>
<rect x="47.29" y="128.99" width="7.94" height="4.27" fill="#d4e6f1"/>
<rect x="54.63" y="128.99" width="29.97" height="4.27" fill="#faede6"/>
<rect x="84" y="128.99" width="7.94" height="4.27" fill="#4489c2"/>
<rect x="91.34" y="128.99" width="7.94" height="4.27" fill="#2166ac"/>
<rect x="98.69" y="128.99" width="7.94" height="4.27" fill="#a9cfe6"/>
<rect x="106.03" y="128.99" width="7.94" height="4.27" fill="#4489c2"/>
<rect x="113.37" y="128.99" width="22.63" height="4.27" fill="#2166ac"/>
<rect x="135.4" y="128.99" width="7.94" height="4.27" fill="#d75949"/>
<rect x="142.75" y="128.99" width="7.94" height="4.27" fill="#a9cfe6"/>
<rect x="150.09" y="128.99" width="7.94" height="4.27" fill="#d4e6f1"/>
<rect x="157.43" y="128.99" width="7.94" height="4.27" fill="#b2182b"/>
<rect x="164.77" y="128.99" width="7.94" height="4.27" fill="#f9bea2"/>
<rect x="172.12" y="128.99" width="15.29" height="4.27" fill="#b2182b"/>
<rect x="186.8" y="128.99" width="7.94" height="4.27" fill="#faede6"/>
<rect x="194.15" y="128.99" width="22.63" height="4.27" fill="#f9bea2"/>
<rect x="216.17" y="128.99" width="7.94" height="4.27" fill="#fddfcf"/>
<rect x="223.52" y="128.99" width="15.29" height="4.27" fill="#2166ac"/>
<rect x="238.2" y="128.99" width="7.94" height="4.27" fill="#a9cfe6"/>
<rect x="245.55" y="128.99" width="8.45" height="4.27" fill="#2166ac"/>
<rect x="26.8" y="132.66" width="13.74" height="4.27" fill="#f0936f"/>
<rect x="39.94" y="132.66" width="22.63" height="4.27" fill="#fddfcf"/>
<rect x="61.97" y="132.66" width="7.94" height="4.27" fill="#6fadd4"/>
<rect x="69.31" y="132.66" width="7.94" height="4.27" fill="#ecf2f6"/>
<rect x="76.66" y="132.66" width="7.94" height="4.27" fill="#faede6"/>
<rect x="84" y="132.66" width="7.94" height="4.27" fill="#ecf2f6"/>
<rect x="91.34" y="132.66" width="7.94" height="4.27" fill="#4489c2"/>
<rect x="98.69" y="132.66" width="7.94" height="4.27" fill="#a9cfe6"/>
<rect x="106.03" y="132.66" width="7.94" height="4.27" fill="#faede6"/>
<rect x="113.37" y="132.66" width="7.94" height="4.27" fill="#ecf2f6"/>
<rect x="120.72" y="132.66" width="7.94" height="4.27" fill="#f9bea2"/>
<rect x="128.06" y="132.66" width="15.29" height="4.27" fill="#b2182b"/>
<rect x="142.75" y="132.66" width="7.94" height="4.27" fill="#f9bea2"/>
<rect x="150.09" y="132.66" width="7.94" height="4.27" fill="#faede6"/>
<rect x="157.43" y="132.66" width="7.94" height="4.27" fill="#b2182b"/>
<rect x="164.77" y="132.66" width="7.94" height="4.27" fill="#f0936f"/>
<rect x="172.12" y="132.66" width="7.94" height="4.27" fill="#f9bea2"/>
<rect x="179.46" y="132.66" width="7.94" height="4.27" fill="#faede6"/>
<rect x="186.8" y="132.66" width="15.29" height="4.27" fill="#fddfcf"/>
<rect x="201.49" y="132.66" width="7.94" height="4.27" fill="#f9bea2"/>
<rect x="208.83" y="132.66" width="7.94" height="4.27" fill="#b2182b"/>
<rect x="216.17" y="132.66" width="37.83" height="4.27" fill="#2166ac"/>
<rect x="26.8" y="136.33" width="35.77" height="4.27" fill="#fddfcf"/>
<rect x="61.97" y="136.33" width="7.94" height="4.27" fill="#faede6"/>
<rect x="69.31" y="136.33" width="15.29" height="4.27" fill="#d75949"/>
<rect x="84" y="136.33" width="7.94" height="4.27" fill="#fddfcf"/>
<rect x="91.34" y="136.33" width="7.94" height="4.27" fill="#4489c2"/>
<rect x="98.69" y="136.33" width="7.94" height="4.27" fill="#d4e6f1"/>
<rect x="106.03" y="136.33" width="7.94" height="4.27" fill="#fddfcf"/>
<rect x="113.37" y="136.33" width="7.94" height="4.27" fill="#f9bea2"/>
<rect x="120.72" y="136.33" width="7.94" height="4.27" fill="#d75949"/>
<rect x="128.06" y="136.33" width="7.94" height="4.27" fill="#f9bea2"/>
<rect x="135.4" y="136.33" width="7.94" height="4.27" fill="#b2182b"/>
<rect x="142.75" y="136.33" width="7.94" height="4.27" fill="#ecf2f6"/>
<rect x="150.09" y="136.33" width="15.29" height="4.27" fill="#b2182b"/>
<rect x="164.77" y="136.33" width="15.29" height="4.27" fill="#faede6"/>
<rect x="179.46" y="136.33" width="29.97" height="4.27" fill="#b2182b"/>
<rect x="208.83" y="136.33" width="45.17" height="4.27" fill="#2166ac"/>
<rect x="26.8" y="140" width="35.77" height="4.27" fill="#fddfcf"/>
<rect x="61.97" y="140" width="15.29" height="4.27" fill="#f0936f"/>
<rect x="76.66" y="140" width="7.94" height="4.27" fill="#f9bea2"/>
<rect x="84" y="140" width="7.94" height="4.27" fill="#fddfcf"/>
<rect x="91.34" y="140" width="15.29" height="4.27" fill="#f9bea2"/>
<rect x="106.03" y="140" width="15.29" height="4.27" fill="#fddfcf"/>
<rect x="120.72" y="140" width="7.94" height="4.27" fill="#faede6"/>
<rect x="128.06" y="140" width="7.94" height="4.27" fill="#f9bea2"/>
<rect x="135.4" y="140" width="7.94" height="4.27" fill="#fddfcf"/>
<rect x="142.75" y="140" width="7.94" height="4.27" fill="#f9bea2"/>
<rect x="150.09" y="140" width="7.94" height="4.27" fill="#fddfcf"/>
<rect x="157.43" y="140" width="7.94" height="4.27" fill="#ecf2f6"/>
<rect x="164.77" y="140" width="7.94" height="4.27" fill="#fddfcf"/>
<rect x="172.12" y="140" width="29.97" height="4.27" fill="#b2182b"/>
<rect x="201.49" y="140" width="52.51" height="4.27" fill="#2166ac"/>
<rect x="26.8" y="143.67" width="28.43" height="4.27" fill="#faede6"/>
<rect x="54.63" y="143.67" width="7.94" height="4.27" fill="#fddfcf"/>
<rect x="61.97" y="143.67" width="15.29" height="4.27" fill="#f9bea2"/>
<rect x="76.66" y="143.67" width="7.94" height="4.27" fill="#faede6"/>
<rect x="84" y="143.67" width="7.94" height="4.27" fill="#fddfcf"/>
<rect x="91.34" y="143.67" width="7.94" height="4.27" fill="#f0936f"/>
<rect x="98.69" y="143.67" width="7.94" height="4.27" fill="#d75949"/>
<rect x="106.03" y="143.67" width="7.94" height="4.27" fill="#f9bea2"/>
<rect x="113.37" y="143.67" width="7.94" height="4.27" fill="#faede6"/>
<rect x="120.72" y="143.67" width="22.63" height="4.27" fill="#b2182b"/>
<rect x="142.75" y="143.67" width="7.94" height="4.27" fill="#d75949"/>
<rect x="150.09" y="143.67" width="7.94" height="4.27" fill="#b2182b"/>
<rect x="157.43" y="143.67" width="7.94" height="4.27" fill="#ecf2f6"/>
<rect x="164.77" y="143.67" width="29.97" height="4.27" fill="#b2182b"/>
<rect x="194.15" y="143.67" width="7.94" height="4.27" fill="#ecf2f6"/>
<rect x="201.49" y="143.67" width="37.31" height="4.27" fill="#2166ac"/>
<rect x="238.2" y="143.67" width="7.94" height="4.27" fill="#6fadd4"/>
<rect x="245.55" y="143.67" width="8.45" height="4.27" fill="#f9bea2"/>
<rect x="26.8" y="147.34" width="13.74" height="4.27" fill="#fddfcf"/>
<rect x="39.94" y="147.34" width="7.94" height="4.27" fill="#f9bea2"/>
<rect x="47.29" y="147.34" width="15.29" height="4.27" fill="#fddfcf"/>
<rect x="61.97" y="147.34" width="7.94" height="4.27" fill="#d75949"/>
<rect x="69.31" y="147.34" width="7.94" height="4.27" fill="#f0936f"/>
<rect x="76.66" y="147.34" width="7.94" height="4.27" fill="#ecf2f6"/>
<rect x="84" y="147.34" width="7.94" height="4.27" fill="#f9bea2"/>
<rect x="91.34" y="147.34" width="44.66" height="4.27" fill="#b2182b"/>
<rect x="135.4" y="147.34" width="7.94" height="4.27" fill="#f9bea2"/>
<rect x="142.75" y="147.34" width="44.66" height="4.27" fill="#b2182b"/>
<rect x="186.8" y="147.34" width="7.94" height="4.27" fill="#ecf2f6"/>
<rect x="194.15" y="147.34" width="29.97" height="4.27" fill="#2166ac"/>
<rect x="223.52" y="147.34" width="7.94" height="4.27" fill="#d4e6f1"/>
<rect x="230.86" y="147.34" width="7.94" height="4.27" fill="#faede6"/>
<rect x="238.2" y="147.34" width="7.94" height="4.27" fill="#fddfcf"/>
<rect x="245.55" y="147.34" width="8.45" height="4.27" fill="#f9bea2"/>
<rect x="26.8" y="151.01" width="13.74" height="4.27" fill="#f0936f"/>
<rect x="39.94" y="151.01" width="7.94" height="4.27" fill="#f9bea2"/>
<rect x="47.29" y="151.01" width="15.29" height="4.27" fill="#fddfcf"/>
<rect x="61.97" y="151.01" width="7.94" height="4.27" fill="#f0936f"/>
<rect x="69.31" y="151.01" width="7.94" height="4.27" fill="#d4e6f1"/>
<rect x="76.66" y="151.01" width="7.94" height="4.27" fill="#faede6"/>
<rect x="84" y="151.01" width="7.94" height="4.27" fill="#f9bea2"/>
<rect x="91.34" y="151.01" width="44.66" height="4.27" fill="#b2182b"/>
<rect x="135.4" y="151.01" width="7.94" height="4.27" fill="#ecf2f6"/>
<rect x="142.75" y="151.01" width="7.94" height="4.27" fill="#b2182b"/>
<rect x="150.09" y="151.01" width="7.94" height="4.27" fill="#6fadd4"/>
<rect x="157.43" y="151.01" width="29.97" height="4.27" fill="#b2182b"/>
<rect x="186.8" y="151.01" width="29.97" height="4.27" fill="#2166ac"/>
<rect x="216.17" y="151.01" width="7.94" height="4.27" fill="#d4e6f1"/>
<rect x="223.52" y="151.01" width="7.94" height="4.27" fill="#faede6"/>
<rect x="230.86" y="151.01" width="7.94" height="4.27" fill="#f0936f"/>
<rect x="238.2" y="151.01" width="7.94" height="4.27" fill="#ecf2f6"/>
<rect x="245.55" y="151.01" width="8.45" height="4.27" fill="#d4e6f1"/>
<rect x="26.8" y="154.68" width="28.43" height="4.27" fill="#faede6"/>
<rect x="54.63" y="154.68" width="15.29" height="4.27" fill="#b2182b"/>
<rect x="69.31" y="154.68" width="7.94" height="4.27" fill="#ecf2f6"/>
<rect x="76.66" y="154.68" width="59.34" height="4.27" fill="#b2182b"/>
<rect x="135.4" y="154.68" width="7.94" height="4.27" fill="#ecf2f6"/>
<rect x="142.75" y="154.68" width="37.32" height="4.27" fill="#b2182b"/>
<rect x="179.46" y="154.68" width="7.94" height="4.27" fill="#ecf2f6"/>
<rect x="186.8" y="154.68" width="29.97" height="4.27" fill="#2166ac"/>
<rect x="216.17" y="154.68" width="7.94" height="4.27" fill="#d4e6f1"/>
<rect x="223.52" y="154.68" width="15.29" height="4.27" fill="#f9bea2"/>
<rect x="238.2" y="154.68" width="7.94" height="4.27" fill="#b2182b"/>
<rect x="245.55" y="154.68" width="8.45" height="4.27" fill="#6fadd4"/>
<rect x="26.8" y="158.35" width="13.74" height="4.27" fill="#b2182b"/>
<rect x="39.94" y="158.35" width="7.94" height="4.27" fill="#f9bea2"/>
<rect x="47.29" y="158.35" width="7.94" height="4.27" fill="#f0936f"/>
<rect x="54.63" y="158.35" width="15.29" height="4.27" fill="#b2182b"/>
<rect x="69.31" y="158.35" width="7.94" height="4.27" fill="#6fadd4"/>
<rect x="76.66" y="158.35" width="37.31" height="4.27" fill="#b2182b"/>
<rect x="113.37" y="158.35" width="7.94" height="4.27" fill="#f0936f"/>
<rect x="120.72" y="158.35" width="7.94" height="4.27" fill="#faede6"/>
<rect x="128.06" y="158.35" width="7.94" height="4.27" fill="#6fadd4"/>
<rect x="135.4" y="158.35" width="37.32" height="4.27" fill="#b2182b"/>
<rect x="172.12" y="158.35" width="7.94" height="4.27" fill="#4489c2"/>
<rect x="179.46" y="158.35" width="15.29" height="4.27" fill="#2166ac"/>
<rect x="194.15" y="158.35" width="22.63" height="4.27" fill="#4489c2"/>
<rect x="216.17" y="158.35" width="7.94" height="4.27" fill="#ecf2f6"/>
<rect x="223.52" y="158.35" width="7.94" height="4.27" fill="#faede6"/>
<rect x="230.86" y="158.35" width="7.94" height="4.27" fill="#b2182b"/>
<rect x="238.2" y="158.35" width="7.94" height="4.27" fill="#f9bea2"/>
<rect x="245.55" y="158.35" width="8.45" height="4.27" fill="#4489c2"/>
<rect x="26.8" y="162.02" width="13.74" height="4.27" fill="#b2182b"/>
<rect x="39.94" y="162.02" width="7.94" height="4.27" fill="#f0936f"/>
<rect x="47.29" y="162.02" width="15.29" height="4.27" fill="#b2182b"/>
<rect x="61.97" y="162.02" width="7.94" height="4.27" fill="#faede6"/>
<rect x="69.31" y="162.02" width="7.94" height="4.27" fill="#f9bea2"/>
<rect x="76.66" y="162.02" width="29.97" height="4.27" fill="#b2182b"/>
<rect x="106.03" y="162.02" width="15.29" height="4.27" fill="#a9cfe6"/>
<rect x="120.72" y="162.02" width="7.94" height="4.27" fill="#ecf2f6"/>
<rect x="128.06" y="162.02" width="7.94" height="4.27" fill="#a9cfe6"/>
<rect x="135.4" y="162.02" width="7.94" height="4.27" fill="#fddfcf"/>
<rect x="142.75" y="162.02" width="7.94" height="4.27" fill="#f0936f"/>
<rect x="150.09" y="162.02" width="7.94" height="4.27" fill="#ecf2f6"/>
<rect x="157.43" y="162.02" width="7.94" height="4.27" fill="#6fadd4"/>
<rect x="164.77" y="162.02" width="7.94" height="4.27" fill="#faede6"/>
<rect x="172.12" y="162.02" width="7.94" height="4.27" fill="#2166ac"/>
<rect x="179.46" y="162.02" width="7.94" height="4.27" fill="#6fadd4"/>
<rect x="186.8" y="162.02" width="29.97" height="4.27" fill="#4489c2"/>
<rect x="216.17" y="162.02" width="7.94" height="4.27" fill="#ecf2f6"/>
<rect x="223.52" y="162.02" width="15.29" height="4.27" fill="#b2182b"/>
<rect x="238.2" y="162.02" width="15.8" height="4.27" fill="#4489c2"/>
<rect x="26.8" y="165.69" width="28.43" height="4.27" fill="#b2182b"/>
<rect x="54.63" y="165.69" width="7.94" height="4.27" fill="#f0936f"/>
<rect x="61.97" y="165.69" width="7.94" height="4.27" fill="#faede6"/>
<rect x="69.31" y="165.69" width="7.94" height="4.27" fill="#d75949"/>
<rect x="76.66" y="165.69" width="7.94" height="4.27" fill="#faede6"/>
<rect x="84" y="165.69" width="7.94" height="4.27" fill="#b2182b"/>
<rect x="91.34" y="165.69" width="7.94" height="4.27" fill="#fddfcf"/>
<rect x="98.69" y="165.69" width="7.94" height="4.27" fill="#d75949"/>
<rect x="106.03" y="165.69" width="7.94" height="4.27" fill="#a9cfe6"/>
<rect x="113.37" y="165.69" width="7.94" height="4.27" fill="#6fadd4"/>
<rect x="120.72" y="165.69" width="7.94" height="4.27" fill="#a9cfe6"/>
<rect x="128.06" y="165.69" width="15.29" height="4.27" fill="#6fadd4"/>
<rect x="142.75" y="165.69" width="15.29" height="4.27" fill="#2166ac"/>
<rect x="157.43" y="165.69" width="7.94" height="4.27" fill="#4489c2"/>
<rect x="164.77" y="165.69" width="7.94" height="4.27" fill="#6fadd4"/>
<rect x="172.12" y="165.69" width="22.63" height="4.27" fill="#4489c2"/>
<rect x="194.15" y="165.69" width="7.94" height="4.27" fill="#6fadd4"/>
<rect x="201.49" y="165.69" width="7.94" height="4.27" fill="#ecf2f6"/>
<rect x="208.83" y="165.69" width="7.94" height="4.27" fill="#6fadd4"/>
<rect x="216.17" y="165.69" width="7.94" height="4.27" fill="#b2182b"/>
<rect x="223.52" y="165.69" width="7.94" height="4.27" fill="#fddfcf"/>
<rect x="230.86" y="165.69" width="23.14" height="4.27" fill="#4489c2"/>
<rect x="26.8" y="169.36" width="13.74" height="4.27" fill="#b2182b"/>
<rect x="39.94" y="169.36" width="7.94" height="4.27" fill="#f0936f"/>
<rect x="47.29" y="169.36" width="22.63" height="4.27" fill="#ecf2f6"/>
<rect x="69.31" y="169.36" width="7.94" height="4.27" fill="#6fadd4"/>
<rect x="76.66" y="169.36" width="7.94" height="4.27" fill="#a9cfe6"/>
<rect x="84" y="169.36" width="22.63" height="4.27" fill="#d4e6f1"/>
<rect x="106.03" y="169.36" width="15.29" height="4.27" fill="#4489c2"/>
<rect x="120.72" y="169.36" width="7.94" height="4.27" fill="#ecf2f6"/>
<rect x="128.06" y="169.36" width="7.94" height="4.27" fill="#2166ac"/>
<rect x="135.4" y="169.36" width="29.97" height="4.27" fill="#4489c2"/>
<rect x="164.77" y="169.36" width="7.94" height="4.27" fill="#6fadd4"/>
<rect x="172.12" y="169.36" width="22.63" height="4.27" fill="#4489c2"/>
<rect x="194.15" y="169.36" width="7.94" height="4.27" fill="#b2182b"/>
<rect x="201.49" y="169.36" width="7.94" height="4.27" fill="#ecf2f6"/>
<rect x="208.83" y="169.36" width="7.94" height="4.27" fill="#faede6"/>
<rect x="216.17" y="169.36" width="7.94" height="4.27" fill="#d75949"/>
<rect x="223.52" y="169.36" width="30.48" height="4.27" fill="#4489c2"/>
<rect x="26.8" y="173.03" width="13.74" height="4.27" fill="#d75949"/>
<rect x="39.94" y="173.03" width="15.29" height="4.27" fill="#6fadd4"/>
<rect x="54.63" y="173.03" width="15.29" height="4.27" fill="#ecf2f6"/>
<rect x="69.31" y="173.03" width="7.94" height="4.27" fill="#d4e6f1"/>
<rect x="76.66" y="173.03" width="7.94" height="4.27" fill="#a9cfe6"/>
<rect x="84" y="173.03" width="22.63" height="4.27" fill="#6fadd4"/>
<rect x="106.03" y="173.03" width="15.29" height="4.27" fill="#2166ac"/>
<rect x="120.72" y="173.03" width="59.34" height="4.27" fill="#4489c2"/>
<rect x="179.46" y="173.03" width="7.94" height="4.27" fill="#faede6"/>
<rect x="186.8" y="173.03" width="15.29" height="4.27" fill="#b2182b"/>
<rect x="201.49" y="173.03" width="7.94" height="4.27" fill="#6fadd4"/>
<rect x="208.83" y="173.03" width="7.94" height="4.27" fill="#d75949"/>
<rect x="216.17" y="173.03" width="7.94" height="4.27" fill="#a9cfe6"/>
<rect x="223.52" y="173.03" width="30.48" height="4.27" fill="#4489c2"/>
<rect x="26.8" y="176.7" width="13.74" height="4.27" fill="#a9cfe6"/>
<rect x="39.94" y="176.7" width="29.97" height="4.27" fill="#ecf2f6"/>
<rect x="69.31" y="176.7" width="7.94" height="4.27" fill="#d4e6f1"/>
<rect x="76.66" y="176.7" width="7.94" height="4.27" fill="#6fadd4"/>
<rect x="84" y="176.7" width="29.97" height="4.27" fill="#4489c2"/>
<rect x="113.37" y="176.7" width="7.94" height="4.27" fill="#6fadd4"/>
<rect x="120.72" y="176.7" width="15.29" height="4.27" fill="#4489c2"/>
<rect x="135.4" y="176.7" width="7.94" height="4.27" fill="#6fadd4"/>
<rect x="142.75" y="176.7" width="7.94" height="4.27" fill="#4489c2"/>
<rect x="150.09" y="176.7" width="7.94" height="4.27" fill="#6fadd4"/>
<rect x="157.43" y="176.7" width="15.29" height="4.27" fill="#ecf2f6"/>
<rect x="172.12" y="176.7" width="7.94" height="4.27" fill="#a9cfe6"/>
<rect x="179.46" y="176.7" width="7.94" height="4.27" fill="#f9bea2"/>
<rect x="186.8" y="176.7" width="7.94" height="4.27" fill="#b2182b"/>
<rect x="194.15" y="176.7" width="7.94" height="4.27" fill="#a9cfe6"/>
<rect x="201.49" y="176.7" width="7.94" height="4.27" fill="#6fadd4"/>
<rect x="208.83" y="176.7" width="29.97" height="4.27" fill="#4489c2"/>
<rect x="238.2" y="176.7" width="15.8" height="4.27" fill="#6fadd4"/>
<rect x="26.8" y="180.37" width="35.77" height="4.27" fill="#ecf2f6"/>
<rect x="61.97" y="180.37" width="7.94" height="4.27" fill="#a9cfe6"/>
<rect x="69.31" y="180.37" width="7.94" height="4.27" fill="#2166ac"/>
<rect x="76.66" y="180.37" width="7.94" height="4.27" fill="#6fadd4"/>
<rect x="84" y="180.37" width="22.63" height="4.27" fill="#4489c2"/>
<rect x="106.03" y="180.37" width="7.94" height="4.27" fill="#2166ac"/>
<rect x="113.37" y="180.37" width="7.94" height="4.27" fill="#6fadd4"/>
<rect x="120.72" y="180.37" width="7.94" height="4.27" fill="#4489c2"/>
<rect x="128.06" y="180.37" width="7.94" height="4.27" fill="#6fadd4"/>
<rect x="135.4" y="180.37" width="7.94" height="4.27" fill="#ecf2f6"/>
<rect x="142.75" y="180.37" width="15.29" height="4.27" fill="#d4e6f1"/>
<rect x="157.43" y="180.37" width="7.94" height="4.27" fill="#a9cfe6"/>
<rect x="164.77" y="180.37" width="7.94" height="4.27" fill="#faede6"/>
<rect x="172.12" y="180.37" width="7.94" height="4.27" fill="#b2182b"/>
<rect x="179.46" y="180.37" width="7.94" height="4.27" fill="#f0936f"/>
<rect x="186.8" y="180.37" width="7.94" height="4.27" fill="#2166ac"/>
<rect x="194.15" y="180.37" width="7.94" height="4.27" fill="#6fadd4"/>
<rect x="201.49" y="180.37" width="22.63" height="4.27" fill="#4489c2"/>
<rect x="223.52" y="180.37" width="7.94" height="4.27" fill="#d4e6f1"/>
<rect x="230.86" y="180.37" width="7.94" height="4.27" fill="#f0936f"/>
<rect x="238.2" y="180.37" width="7.94" height="4.27" fill="#a9cfe6"/>
<rect x="245.55" y="180.37" width="8.45" height="4.27" fill="#6fadd4"/>
<rect x="26.8" y="184.04" width="13.74" height="4.27" fill="#d4e6f1"/>
<rect x="39.94" y="184.04" width="7.94" height="4.27" fill="#a9cfe6"/>
<rect x="47.29" y="184.04" width="29.97" height="4.27" fill="#4489c2"/>
<rect x="76.66" y="184.04" width="7.94" height="4.27" fill="#6fadd4"/>
<rect x="84" y="184.04" width="29.97" height="4.27" fill="#4489c2"/>
<rect x="113.37" y="184.04" width="7.94" height="4.27" fill="#a9cfe6"/>
<rect x="120.72" y="184.04" width="52" height="4.27" fill="#ecf2f6"/>
<rect x="172.12" y="184.04" width="7.94" height="4.27" fill="#faede6"/>
<rect x="179.46" y="184.04" width="7.94" height="4.27" fill="#6fadd4"/>
<rect x="186.8" y="184.04" width="22.63" height="4.27" fill="#4489c2"/>
<rect x="208.83" y="184.04" width="7.94" height="4.27" fill="#ecf2f6"/>
<rect x="216.17" y="184.04" width="7.94" height="4.27" fill="#b2182b"/>
<rect x="223.52" y="184.04" width="7.94" height="4.27" fill="#ecf2f6"/>
<rect x="230.86" y="184.04" width="7.94" height="4.27" fill="#fddfcf"/>
<rect x="238.2" y="184.04" width="15.8" height="4.27" fill="#6fadd4"/>
<rect x="26.8" y="187.71" width="13.74" height="4.27" fill="#a9cfe6"/>
<rect x="39.94" y="187.71" width="15.29" height="4.27" fill="#6fadd4"/>
<rect x="54.63" y="187.71" width="15.29" height="4.27" fill="#4489c2"/>
<rect x="69.31" y="187.71" width="7.94" height="4.27" fill="#6fadd4"/>
<rect x="76.66" y="187.71" width="7.94" height="4.27" fill="#a9cfe6"/>
<rect x="84" y="187.71" width="7.94" height="4.27" fill="#6fadd4"/>
<rect x="91.34" y="187.71" width="22.63" height="4.27" fill="#4489c2"/>
<rect x="113.37" y="187.71" width="15.29" height="4.27" fill="#ecf2f6"/>
<rect x="128.06" y="187.71" width="7.94" height="4.27" fill="#6fadd4"/>
<rect x="135.4" y="187.71" width="15.29" height="4.27" fill="#4489c2"/>
<rect x="150.09" y="187.71" width="7.94" height="4.27" fill="#6fadd4"/>
<rect x="157.43" y="187.71" width="44.66" height="4.27" fill="#4489c2"/>
<rect x="201.49" y="187.71" width="7.94" height="4.27" fill="#a9cfe6"/>
<rect x="208.83" y="187.71" width="7.94" height="4.27" fill="#d75949"/>
<rect x="216.17" y="187.71" width="7.94" height="4.27" fill="#b2182b"/>
<rect x="223.52" y="187.71" width="7.94" height="4.27" fill="#6fadd4"/>
<rect x="230.86" y="187.71" width="7.94" height="4.27" fill="#4489c2"/>
<rect x="238.2" y="187.71" width="15.8" height="4.27" fill="#6fadd4"/>
<rect x="26.8" y="191.38" width="13.74" height="4.27" fill="#6fadd4"/>
<rect x="39.94" y="191.38" width="7.94" height="4.27" fill="#faede6"/>
<rect x="47.29" y="191.38" width="22.63" height="4.27" fill="#6fadd4"/>
<rect x="69.31" y="191.38" width="125.43" height="4.27" fill="#4489c2"/>
<rect x="194.15" y="191.38" width="7.94" height="4.27" fill="#6fadd4"/>
<rect x="201.49" y="191.38" width="7.94" height="4.27" fill="#f0936f"/>
<rect x="208.83" y="191.38" width="7.94" height="4.27" fill="#b2182b"/>
<rect x="216.17" y="191.38" width="7.94" height="4.27" fill="#ecf2f6"/>
<rect x="223.52" y="191.38" width="30.48" height="4.27" fill="#4489c2"/>
<rect x="26.8" y="195.05" width="13.74" height="4.27" fill="#6fadd4"/>
<rect x="39.94" y="195.05" width="7.94" height="4.27" fill="#a9cfe6"/>
<rect x="47.29" y="195.05" width="22.63" height="4.27" fill="#6fadd4"/>
<rect x="69.31" y="195.05" width="110.75" height="4.27" fill="#4489c2"/>
<rect x="179.46" y="195.05" width="7.94" height="4.27" fill="#d4e6f1"/>
<rect x="186.8" y="195.05" width="52" height="4.27" fill="#4489c2"/>
<rect x="238.2" y="195.05" width="15.8" height="4.27" fill="#6fadd4"/>
<rect x="26.8" y="198.72" width="131.23" height="4.27" fill="#4489c2"/>
<rect x="157.43" y="198.72" width="7.94" height="4.27" fill="#6fadd4"/>
<rect x="164.77" y="198.72" width="15.29" height="4.27" fill="#4489c2"/>
<rect x="179.46" y="198.72" width="7.94" height="4.27" fill="#d4e6f1"/>
<rect x="186.8" y="198.72" width="52" height="4.27" fill="#4489c2"/>
<rect x="238.2" y="198.72" width="15.8" height="4.27" fill="#6fadd4"/>
<rect x="26.8" y="202.39" width="65.14" height="4.27" fill="#4489c2"/>
<rect x="91.34" y="202.39" width="7.94" height="4.27" fill="#6fadd4"/>
<rect x="98.69" y="202.39" width="59.34" height="4.27" fill="#4489c2"/>
<rect x="157.43" y="202.39" width="7.94" height="4.27" fill="#6fadd4"/>
<rect x="164.77" y="202.39" width="89.23" height="4.27" fill="#4489c2"/>
<rect x="26.8" y="206.06" width="13.74" height="4.27" fill="#4489c2"/>
<rect x="39.94" y="206.06" width="7.94" height="4.27" fill="#6fadd4"/>
<rect x="47.29" y="206.06" width="29.97" height="4.27" fill="#4489c2"/>
<rect x="76.66" y="206.06" width="7.94" height="4.27" fill="#ecf2f6"/>
<rect x="84" y="206.06" width="37.32" height="4.27" fill="#4489c2"/>
<rect x="120.72" y="206.06" width="7.94" height="4.27" fill="#2166ac"/>
<rect x="128.06" y="206.06" width="52" height="4.27" fill="#4489c2"/>
<rect x="179.46" y="206.06" width="7.94" height="4.27" fill="#6fadd4"/>
<rect x="186.8" y="206.06" width="44.66" height="4.27" fill="#4489c2"/>
<rect x="230.86" y="206.06" width="7.94" height="4.27" fill="#6fadd4"/>
<rect x="238.2" y="206.06" width="7.94" height="4.27" fill="#d4e6f1"/>
<rect x="245.55" y="206.06" width="8.45" height="4.27" fill="#ecf2f6"/>
<rect x="26.8" y="209.73" width="13.74" height="4.27" fill="#4489c2"/>
<rect x="39.94" y="209.73" width="7.94" height="4.27" fill="#6fadd4"/>
<rect x="47.29" y="209.73" width="29.97" height="4.27" fill="#4489c2"/>
<rect x="76.66" y="209.73" width="7.94" height="4.27" fill="#faede6"/>
<rect x="84" y="209.73" width="7.94" height="4.27" fill="#6fadd4"/>
<rect x="91.34" y="209.73" width="7.94" height="4.27" fill="#4489c2"/>
<rect x="98.69" y="209.73" width="7.94" height="4.27" fill="#6fadd4"/>
<rect x="106.03" y="209.73" width="15.29" height="4.27" fill="#4489c2"/>
<rect x="120.72" y="209.73" width="7.94" height="4.27" fill="#2166ac"/>
<rect x="128.06" y="209.73" width="88.72" height="4.27" fill="#4489c2"/>
<rect x="216.17" y="209.73" width="7.94" height="4.27" fill="#6fadd4"/>
<rect x="223.52" y="209.73" width="15.29" height="4.27" fill="#4489c2"/>
<rect x="238.2" y="209.73" width="7.94" height="4.27" fill="#ecf2f6"/>
<rect x="245.55" y="209.73" width="8.45" height="4.27" fill="#4489c2"/>
<rect x="26.8" y="213.4" width="13.74" height="4.27" fill="#4489c2"/>
<rect x="39.94" y="213.4" width="7.94" height="4.27" fill="#6fadd4"/>
<rect x="47.29" y="213.4" width="37.32" height="4.27" fill="#4489c2"/>
<rect x="84" y="213.4" width="7.94" height="4.27" fill="#2166ac"/>
<rect x="91.34" y="213.4" width="7.94" height="4.27" fill="#4489c2"/>
<rect x="98.69" y="213.4" width="7.94" height="4.27" fill="#6fadd4"/>
<rect x="106.03" y="213.4" width="44.66" height="4.27" fill="#4489c2"/>
<rect x="150.09" y="213.4" width="7.94" height="4.27" fill="#6fadd4"/>
<rect x="157.43" y="213.4" width="15.29" height="4.27" fill="#4489c2"/>
<rect x="172.12" y="213.4" width="15.29" height="4.27" fill="#6fadd4"/>
<rect x="186.8" y="213.4" width="29.97" height="4.27" fill="#4489c2"/>
<rect x="216.17" y="213.4" width="7.94" height="4.27" fill="#6fadd4"/>
<rect x="223.52" y="213.4" width="30.48" height="4.27" fill="#4489c2"/>
<rect x="26.8" y="217.07" width="21.09" height="4.27" fill="#4489c2"/>
<rect x="47.29" y="217.07" width="7.94" height="4.27" fill="#6fadd4"/>
<rect x="54.63" y="217.07" width="15.29" height="4.27" fill="#4489c2"/>
<rect x="69.31" y="217.07" width="22.63" height="4.27" fill="#6fadd4"/>
<rect x="91.34" y="217.07" width="7.94" height="4.27" fill="#4489c2"/>
<rect x="98.69" y="217.07" width="7.94" height="4.27" fill="#a9cfe6"/>
<rect x="106.03" y="217.07" width="15.29" height="4.27" fill="#d4e6f1"/>
<rect x="120.72" y="217.07" width="7.94" height="4.27" fill="#4489c2"/>
<rect x="128.06" y="217.07" width="7.94" height="4.27" fill="#6fadd4"/>
<rect x="135.4" y="217.07" width="15.29" height="4.27" fill="#4489c2"/>
<rect x="150.09" y="217.07" width="7.94" height="4.27" fill="#6fadd4"/>
<rect x="157.43" y="217.07" width="15.29" height="4.27" fill="#4489c2"/>
<rect x="172.12" y="217.07" width="7.94" height="4.27" fill="#6fadd4"/>
<rect x="179.46" y="217.07" width="74.54" height="4.27" fill="#4489c2"/>
<rect x="26.8" y="220.74" width="35.77" height="4.27" fill="#4489c2"/>
<rect x="61.97" y="220.74" width="7.94" height="4.27" fill="#a9cfe6"/>
<rect x="69.31" y="220.74" width="7.94" height="4.27" fill="#fddfcf"/>
<rect x="76.66" y="220.74" width="7.94" height="4.27" fill="#faede6"/>
<rect x="84" y="220.74" width="7.94" height="4.27" fill="#f9bea2"/>
<rect x="91.34" y="220.74" width="7.94" height="4.27" fill="#f0936f"/>
<rect x="98.69" y="220.74" width="7.94" height="4.27" fill="#6fadd4"/>
<rect x="106.03" y="220.74" width="15.29" height="4.27" fill="#faede6"/>
<rect x="120.72" y="220.74" width="7.94" height="4.27" fill="#4489c2"/>
<rect x="128.06" y="220.74" width="7.94" height="4.27" fill="#6fadd4"/>
<rect x="135.4" y="220.74" width="37.32" height="4.27" fill="#4489c2"/>
<rect x="172.12" y="220.74" width="7.94" height="4.27" fill="#6fadd4"/>
<rect x="179.46" y="220.74" width="74.54" height="4.27" fill="#4489c2"/>
<rect x="26.8" y="224.41" width="21.09" height="4.27" fill="#4489c2"/>
<rect x="47.29" y="224.41" width="7.94" height="4.27" fill="#faede6"/>
<rect x="54.63" y="224.41" width="7.94" height="4.27" fill="#f9bea2"/>
<rect x="61.97" y="224.41" width="7.94" height="4.27" fill="#d75949"/>
<rect x="69.31" y="224.41" width="29.97" height="4.27" fill="#fddfcf"/>
<rect x="98.69" y="224.41" width="37.31" height="4.27" fill="#4489c2"/>
<rect x="135.4" y="224.41" width="7.94" height="4.27" fill="#6fadd4"/>
<rect x="142.75" y="224.41" width="7.94" height="4.27" fill="#a9cfe6"/>
<rect x="150.09" y="224.41" width="7.94" height="4.27" fill="#6fadd4"/>
<rect x="157.43" y="224.41" width="15.29" height="4.27" fill="#4489c2"/>
<rect x="172.12" y="224.41" width="7.94" height="4.27" fill="#a9cfe6"/>
<rect x="179.46" y="224.41" width="7.94" height="4.27" fill="#ecf2f6"/>
<rect x="186.8" y="224.41" width="7.94" height="4.27" fill="#4489c2"/>
<rect x="194.15" y="224.41" width="7.94" height="4.27" fill="#6fadd4"/>
<rect x="201.49" y="224.41" width="15.29" height="4.27" fill="#4489c2"/>
<rect x="216.17" y="224.41" width="7.94" height="4.27" fill="#d4e6f1"/>
<rect x="223.52" y="224.41" width="7.94" height="4.27" fill="#4489c2"/>
<rect x="230.86" y="224.41" width="7.94" height="4.27" fill="#a9cfe6"/>
<rect x="238.2" y="224.41" width="7.94" height="4.27" fill="#6fadd4"/>
<rect x="245.55" y="224.41" width="8.45" height="4.27" fill="#4489c2"/>
<rect x="26.8" y="228.08" width="13.74" height="4.27" fill="#6fadd4"/>
<rect x="39.94" y="228.08" width="15.29" height="4.27" fill="#fddfcf"/>
<rect x="54.63" y="228.08" width="7.94" height="4.27" fill="#faede6"/>
<rect x="61.97" y="228.08" width="7.94" height="4.27" fill="#a9cfe6"/>
<rect x="69.31" y="228.08" width="7.94" height="4.27" fill="#4489c2"/>
<rect x="76.66" y="228.08" width="15.29" height="4.27" fill="#6fadd4"/>
<rect x="91.34" y="228.08" width="7.94" height="4.27" fill="#a9cfe6"/>
<rect x="98.69" y="228.08" width="44.66" height="4.27" fill="#4489c2"/>
<rect x="142.75" y="228.08" width="7.94" height="4.27" fill="#6fadd4"/>
<rect x="150.09" y="228.08" width="7.94" height="4.27" fill="#4489c2"/>
<rect x="157.43" y="228.08" width="7.94" height="4.27" fill="#6fadd4"/>
<rect x="164.77" y="228.08" width="15.29" height="4.27" fill="#4489c2"/>
<rect x="179.46" y="228.08" width="7.94" height="4.27" fill="#6fadd4"/>
<rect x="186.8" y="228.08" width="44.66" height="4.27" fill="#4489c2"/>
<rect x="230.86" y="228.08" width="7.94" height="4.27" fill="#a9cfe6"/>
<rect x="238.2" y="228.08" width="15.8" height="4.27" fill="#4489c2"/>
<rect x="26.8" y="231.75" width="13.74" height="4.27" fill="#faede6"/>
<rect x="39.94" y="231.75" width="7.94" height="4.27" fill="#d75949"/>
<rect x="47.29" y="231.75" width="15.29" height="4.27" fill="#6fadd4"/>
<rect x="61.97" y="231.75" width="7.94" height="4.27" fill="#d4e6f1"/>
<rect x="69.31" y="231.75" width="7.94" height="4.27" fill="#ecf2f6"/>
<rect x="76.66" y="231.75" width="22.63" height="4.27" fill="#a9cfe6"/>
<rect x="98.69" y="231.75" width="7.94" height="4.27" fill="#6fadd4"/>
<rect x="106.03" y="231.75" width="7.94" height="4.27" fill="#4489c2"/>
<rect x="113.37" y="231.75" width="22.63" height="4.27" fill="#6fadd4"/>
<rect x="135.4" y="231.75" width="7.94" height="4.27" fill="#a9cfe6"/>
<rect x="142.75" y="231.75" width="7.94" height="4.27" fill="#6fadd4"/>
<rect x="150.09" y="231.75" width="15.29" height="4.27" fill="#a9cfe6"/>
<rect x="164.77" y="231.75" width="7.94" height="4.27" fill="#6fadd4"/>
<rect x="172.12" y="231.75" width="15.29" height="4.27" fill="#4489c2"/>
<rect x="186.8" y="231.75" width="7.94" height="4.27" fill="#6fadd4"/>
<rect x="194.15" y="231.75" width="7.94" height="4.27" fill="#4489c2"/>
<rect x="201.49" y="231.75" width="29.97" height="4.27" fill="#6fadd4"/>
<rect x="230.86" y="231.75" width="7.94" height="4.27" fill="#a9cfe6"/>
<rect x="238.2" y="231.75" width="7.94" height="4.27" fill="#4489c2"/>
<rect x="245.55" y="231.75" width="8.45" height="4.27" fill="#6fadd4"/>
<rect x="26.8" y="235.42" width="13.74" height="4.27" fill="#ecf2f6"/>
<rect x="39.94" y="235.42" width="7.94" height="4.27" fill="#d75949"/>
<rect x="47.29" y="235.42" width="7.94" height="4.27" fill="#6fadd4"/>
<rect x="54.63" y="235.42" width="7.94" height="4.27" fill="#d4e6f1"/>
<rect x="61.97" y="235.42" width="7.94" height="4.27" fill="#ecf2f6"/>
<rect x="69.31" y="235.42" width="7.94" height="4.27" fill="#f0936f"/>
<rect x="76.66" y="235.42" width="15.29" height="4.27" fill="#ecf2f6"/>
<rect x="91.34" y="235.42" width="15.29" height="4.27" fill="#faede6"/>
<rect x="106.03" y="235.42" width="15.29" height="4.27" fill="#ecf2f6"/>
<rect x="120.72" y="235.42" width="15.29" height="4.27" fill="#d4e6f1"/>
<rect x="135.4" y="235.42" width="29.97" height="4.27" fill="#ecf2f6"/>
<rect x="164.77" y="235.42" width="7.94" height="4.27" fill="#a9cfe6"/>
<rect x="172.12" y="235.42" width="15.29" height="4.27" fill="#4489c2"/>
<rect x="186.8" y="235.42" width="15.29" height="4.27" fill="#ecf2f6"/>
<rect x="201.49" y="235.42" width="7.94" height="4.27" fill="#a9cfe6"/>
<rect x="208.83" y="235.42" width="22.63" height="4.27" fill="#faede6"/>
<rect x="230.86" y="235.42" width="7.94" height="4.27" fill="#fddfcf"/>
<rect x="238.2" y="235.42" width="7.94" height="4.27" fill="#f9bea2"/>
<rect x="245.55" y="235.42" width="8.45" height="4.27" fill="#ecf2f6"/>
<rect x="26.8" y="239.09" width="79.83" height="4.27" fill="#fddfcf"/>
<rect x="106.03" y="239.09" width="7.94" height="4.27" fill="#d75949"/>
<rect x="113.37" y="239.09" width="22.63" height="4.27" fill="#fddfcf"/>
<rect x="135.4" y="239.09" width="7.94" height="4.27" fill="#f0936f"/>
<rect x="142.75" y="239.09" width="7.94" height="4.27" fill="#f9bea2"/>
<rect x="150.09" y="239.09" width="15.29" height="4.27" fill="#fddfcf"/>
<rect x="164.77" y="239.09" width="7.94" height="4.27" fill="#ecf2f6"/>
<rect x="172.12" y="239.09" width="15.29" height="4.27" fill="#fddfcf"/>
<rect x="186.8" y="239.09" width="29.97" height="4.27" fill="#b2182b"/>
<rect x="216.17" y="239.09" width="7.94" height="4.27" fill="#f9bea2"/>
<rect x="223.52" y="239.09" width="15.29" height="4.27" fill="#fddfcf"/>
<rect x="238.2" y="239.09" width="7.94" height="4.27" fill="#f0936f"/>
<rect x="245.55" y="239.09" width="8.45" height="4.27" fill="#fddfcf"/>
<rect x="26.8" y="242.76" width="13.74" height="4.27" fill="#f9bea2"/>
<rect x="39.94" y="242.76" width="15.29" height="4.27" fill="#fddfcf"/>
<rect x="54.63" y="242.76" width="22.63" height="4.27" fill="#f9bea2"/>
<rect x="76.66" y="242.76" width="7.94" height="4.27" fill="#fddfcf"/>
<rect x="84" y="242.76" width="22.63" height="4.27" fill="#faede6"/>
<rect x="106.03" y="242.76" width="7.94" height="4.27" fill="#d75949"/>
<rect x="113.37" y="242.76" width="15.29" height="4.27" fill="#f9bea2"/>
<rect x="128.06" y="242.76" width="7.94" height="4.27" fill="#fddfcf"/>
<rect x="135.4" y="242.76" width="7.94" height="4.27" fill="#f9bea2"/>
<rect x="142.75" y="242.76" width="7.94" height="4.27" fill="#fddfcf"/>
<rect x="150.09" y="242.76" width="7.94" height="4.27" fill="#f9bea2"/>
<rect x="157.43" y="242.76" width="7.94" height="4.27" fill="#f0936f"/>
<rect x="164.77" y="242.76" width="7.94" height="4.27" fill="#faede6"/>
<rect x="172.12" y="242.76" width="15.29" height="4.27" fill="#f9bea2"/>
<rect x="186.8" y="242.76" width="15.29" height="4.27" fill="#f0936f"/>
<rect x="201.49" y="242.76" width="15.29" height="4.27" fill="#b2182b"/>
<rect x="216.17" y="242.76" width="37.83" height="4.27" fill="#fddfcf"/>
<rect x="26.8" y="246.43" width="13.74" height="4.27" fill="#f0936f"/>
<rect x="39.94" y="246.43" width="37.32" height="4.27" fill="#fddfcf"/>
<rect x="76.66" y="246.43" width="7.94" height="4.27" fill="#f9bea2"/>
<rect x="84" y="246.43" width="170" height="4.27" fill="#fddfcf"/>
<rect x="26.8" y="250.1" width="13.74" height="4.27" fill="#a9cfe6"/>
<rect x="39.94" y="250.1" width="7.94" height="4.27" fill="#fddfcf"/>
<rect x="47.29" y="250.1" width="7.94" height="4.27" fill="#faede6"/>
<rect x="54.63" y="250.1" width="7.94" height="4.27" fill="#fddfcf"/>
<rect x="61.97" y="250.1" width="7.94" height="4.27" fill="#f9bea2"/>
<rect x="69.31" y="250.1" width="22.63" height="4.27" fill="#fddfcf"/>
<rect x="91.34" y="250.1" width="7.94" height="4.27" fill="#f9bea2"/>
<rect x="98.69" y="250.1" width="15.29" height="4.27" fill="#fddfcf"/>
<rect x="113.37" y="250.1" width="7.94" height="4.27" fill="#f9bea2"/>
<rect x="120.72" y="250.1" width="7.94" height="4.27" fill="#f0936f"/>
<rect x="128.06" y="250.1" width="37.32" height="4.27" fill="#fddfcf"/>
<rect x="164.77" y="250.1" width="15.29" height="4.27" fill="#f9bea2"/>
<rect x="179.46" y="250.1" width="7.94" height="4.27" fill="#faede6"/>
<rect x="186.8" y="250.1" width="7.94" height="4.27" fill="#f9bea2"/>
<rect x="194.15" y="250.1" width="7.94" height="4.27" fill="#f0936f"/>
<rect x="201.49" y="250.1" width="7.94" height="4.27" fill="#fddfcf"/>
<rect x="208.83" y="250.1" width="7.94" height="4.27" fill="#f9bea2"/>
<rect x="216.17" y="250.1" width="7.94" height="4.27" fill="#faede6"/>
<rect x="223.52" y="250.1" width="15.29" height="4.27" fill="#fddfcf"/>
<rect x="238.2" y="250.1" width="7.94" height="4.27" fill="#faede6"/>
<rect x="245.55" y="250.1" width="8.45" height="4.27" fill="#fddfcf"/>
<rect x="26.8" y="253.77" width="13.74" height="4.27" fill="#a9cfe6"/>
<rect x="39.94" y="253.77" width="7.94" height="4.27" fill="#fddfcf"/>
<rect x="47.29" y="253.77" width="7.94" height="4.27" fill="#faede6"/>
<rect x="54.63" y="253.77" width="7.94" height="4.27" fill="#fddfcf"/>
<rect x="61.97" y="253.77" width="7.94" height="4.27" fill="#f0936f"/>
<rect x="69.31" y="253.77" width="29.97" height="4.27" fill="#f9bea2"/>
<rect x="98.69" y="253.77" width="15.29" height="4.27" fill="#fddfcf"/>
<rect x="113.37" y="253.77" width="7.94" height="4.27" fill="#f0936f"/>
<rect x="120.72" y="253.77" width="7.94" height="4.27" fill="#d75949"/>
<rect x="128.06" y="253.77" width="7.94" height="4.27" fill="#f9bea2"/>
<rect x="135.4" y="253.77" width="15.29" height="4.27" fill="#fddfcf"/>
<rect x="150.09" y="253.77" width="7.94" height="4.27" fill="#f9bea2"/>
<rect x="157.43" y="253.77" width="15.29" height="4.27" fill="#f0936f"/>
<rect x="172.12" y="253.77" width="7.94" height="4.27" fill="#b2182b"/>
<rect x="179.46" y="253.77" width="7.94" height="4.27" fill="#fddfcf"/>
<rect x="186.8" y="253.77" width="7.94" height="4.27" fill="#f0936f"/>
<rect x="194.15" y="253.77" width="7.94" height="4.27" fill="#fddfcf"/>
<rect x="201.49" y="253.77" width="7.94" height="4.27" fill="#f0936f"/>
<rect x="208.83" y="253.77" width="7.94" height="4.27" fill="#faede6"/>
<rect x="216.17" y="253.77" width="37.83" height="4.27" fill="#fddfcf"/>
<rect x="26.8" y="257.44" width="28.43" height="4.27" fill="#fddfcf"/>
<rect x="54.63" y="257.44" width="7.94" height="4.27" fill="#f9bea2"/>
<rect x="61.97" y="257.44" width="7.94" height="4.27" fill="#f0936f"/>
<rect x="69.31" y="257.44" width="7.94" height="4.27" fill="#d75949"/>
<rect x="76.66" y="257.44" width="7.94" height="4.27" fill="#f9bea2"/>
<rect x="84" y="257.44" width="7.94" height="4.27" fill="#f0936f"/>
<rect x="91.34" y="257.44" width="7.94" height="4.27" fill="#f9bea2"/>
<rect x="98.69" y="257.44" width="59.34" height="4.27" fill="#fddfcf"/>
<rect x="157.43" y="257.44" width="7.94" height="4.27" fill="#f9bea2"/>
<rect x="164.77" y="257.44" width="7.94" height="4.27" fill="#fddfcf"/>
<rect x="172.12" y="257.44" width="7.94" height="4.27" fill="#b2182b"/>
<rect x="179.46" y="257.44" width="74.54" height="4.27" fill="#fddfcf"/>
<rect x="26.8" y="261.11" width="13.74" height="4.27" fill="#faede6"/>
<rect x="39.94" y="261.11" width="7.94" height="4.27" fill="#fddfcf"/>
<rect x="47.29" y="261.11" width="7.94" height="4.27" fill="#f9bea2"/>
<rect x="54.63" y="261.11" width="7.94" height="4.27" fill="#fddfcf"/>
<rect x="61.97" y="261.11" width="7.94" height="4.27" fill="#f9bea2"/>
<rect x="69.31" y="261.11" width="7.94" height="4.27" fill="#f0936f"/>
<rect x="76.66" y="261.11" width="7.94" height="4.27" fill="#f9bea2"/>
<rect x="84" y="261.11" width="22.63" height="4.27" fill="#fddfcf"/>
<rect x="106.03" y="261.11" width="7.94" height="4.27" fill="#f9bea2"/>
<rect x="113.37" y="261.11" width="7.94" height="4.27" fill="#fddfcf"/>
<rect x="120.72" y="261.11" width="7.94" height="4.27" fill="#f9bea2"/>
<rect x="128.06" y="261.11" width="7.94" height="4.27" fill="#fddfcf"/>
<rect x="135.4" y="261.11" width="7.94" height="4.27" fill="#f9bea2"/>
<rect x="142.75" y="261.11" width="44.66" height="4.27" fill="#fddfcf"/>
<rect x="186.8" y="261.11" width="15.29" height="4.27" fill="#f9bea2"/>
<rect x="201.49" y="261.11" width="52.51" height="4.27" fill="#fddfcf"/>
<rect x="26.8" y="264.78" width="43.12" height="4.27" fill="#fddfcf"/>
<rect x="69.31" y="264.78" width="7.94" height="4.27" fill="#faede6"/>
<rect x="76.66" y="264.78" width="37.31" height="4.27" fill="#fddfcf"/>
<rect x="113.37" y="264.78" width="7.94" height="4.27" fill="#f9bea2"/>
<rect x="120.72" y="264.78" width="7.94" height="4.27" fill="#fddfcf"/>
<rect x="128.06" y="264.78" width="7.94" height="4.27" fill="#f9bea2"/>
<rect x="135.4" y="264.78" width="52" height="4.27" fill="#fddfcf"/>
<rect x="186.8" y="264.78" width="7.94" height="4.27" fill="#f9bea2"/>
<rect x="194.15" y="264.78" width="7.94" height="4.27" fill="#d75949"/>
<rect x="201.49" y="264.78" width="37.31" height="4.27" fill="#fddfcf"/>
<rect x="238.2" y="264.78" width="7.94" height="4.27" fill="#faede6"/>
<rect x="245.55" y="264.78" width="8.45" height="4.27" fill="#fddfcf"/>
<rect x="26.8" y="268.45" width="72.49" height="4.27" fill="#fddfcf"/>
<rect x="98.69" y="268.45" width="7.94" height="4.27" fill="#faede6"/>
<rect x="106.03" y="268.45" width="7.94" height="4.27" fill="#b2182b"/>
<rect x="113.37" y="268.45" width="7.94" height="4.27" fill="#f0936f"/>
<rect x="120.72" y="268.45" width="7.94" height="4.27" fill="#fddfcf"/>
<rect x="128.06" y="268.45" width="7.94" height="4.27" fill="#faede6"/>
<rect x="135.4" y="268.45" width="15.29" height="4.27" fill="#fddfcf"/>
<rect x="150.09" y="268.45" width="7.94" height="4.27" fill="#f9bea2"/>
<rect x="157.43" y="268.45" width="7.94" height="4.27" fill="#d75949"/>
<rect x="164.77" y="268.45" width="22.63" height="4.27" fill="#f9bea2"/>
<rect x="186.8" y="268.45" width="7.94" height="4.27" fill="#f0936f"/>
<rect x="194.15" y="268.45" width="37.32" height="4.27" fill="#fddfcf"/>
<rect x="230.86" y="268.45" width="7.94" height="4.27" fill="#faede6"/>
<rect x="238.2" y="268.45" width="15.8" height="4.27" fill="#fddfcf"/>
<rect x="26.8" y="272.12" width="72.49" height="4.27" fill="#fddfcf"/>
<rect x="98.69" y="272.12" width="7.94" height="4.27" fill="#faede6"/>
<rect x="106.03" y="272.12" width="7.94" height="4.27" fill="#b2182b"/>
<rect x="113.37" y="272.12" width="37.32" height="4.27" fill="#fddfcf"/>
<rect x="150.09" y="272.12" width="7.94" height="4.27" fill="#f9bea2"/>
<rect x="157.43" y="272.12" width="7.94" height="4.27" fill="#d75949"/>
<rect x="164.77" y="272.12" width="22.63" height="4.27" fill="#f9bea2"/>
<rect x="186.8" y="272.12" width="7.94" height="4.27" fill="#d75949"/>
<rect x="194.15" y="272.12" width="37.32" height="4.27" fill="#fddfcf"/>
<rect x="230.86" y="272.12" width="7.94" height="4.27" fill="#faede6"/>
<rect x="238.2" y="272.12" width="7.94" height="4.27" fill="#fddfcf"/>
<rect x="245.55" y="272.12" width="8.45" height="4.27" fill="#f9bea2"/>
<rect x="26.8" y="275.79" width="43.12" height="7.31" fill="#fddfcf"/>
<rect x="69.31" y="275.79" width="7.94" height="7.31" fill="#f9bea2"/>
<rect x="76.66" y="275.79" width="154.8" height="7.31" fill="#fddfcf"/>
<rect x="230.86" y="275.79" width="7.94" height="7.31" fill="#f0936f"/>
<rect x="238.2" y="275.79" width="7.94" height="7.31" fill="#fddfcf"/>
<rect x="245.55" y="275.79" width="8.45" height="7.31" fill="#f9bea2"/>
</g></g>
<circle cx="29.8" cy="245.36" r="4.8" fill="#fff" stroke="#555" stroke-width="0.8" clip-path="url(#cl)"/>
<circle cx="29.8" cy="208.71" r="4.8" fill="#fff" stroke="#555" stroke-width="0.8" clip-path="url(#cl)"/>
<circle cx="29.8" cy="172.07" r="4.8" fill="#fff" stroke="#555" stroke-width="0.8" clip-path="url(#cl)"/>
<circle cx="29.8" cy="135.43" r="4.8" fill="#fff" stroke="#555" stroke-width="0.8" clip-path="url(#cl)"/>
<circle cx="29.8" cy="98.79" r="4.8" fill="#fff" stroke="#555" stroke-width="0.8" clip-path="url(#cl)"/>
<circle cx="29.8" cy="62.14" r="4.8" fill="#fff" stroke="#555" stroke-width="0.8" clip-path="url(#cl)"/>
<circle cx="250.4" cy="245.36" r="4.8" fill="#fff" stroke="#555" stroke-width="0.8" clip-path="url(#cl)"/>
<circle cx="250.4" cy="208.71" r="4.8" fill="#fff" stroke="#555" stroke-width="0.8" clip-path="url(#cl)"/>
<circle cx="250.4" cy="172.07" r="4.8" fill="#fff" stroke="#555" stroke-width="0.8" clip-path="url(#cl)"/>
<circle cx="250.4" cy="135.43" r="4.8" fill="#fff" stroke="#555" stroke-width="0.8" clip-path="url(#cl)"/>
<circle cx="250.4" cy="98.79" r="4.8" fill="#fff" stroke="#555" stroke-width="0.8" clip-path="url(#cl)"/>
<circle cx="250.4" cy="62.14" r="4.8" fill="#fff" stroke="#555" stroke-width="0.8" clip-path="url(#cl)"/>
<rect x="29.8" y="25.5" width="220.6" height="256.5" fill="none" stroke="#1c1c1c" stroke-width="1.5" rx="1.5"/>
<text x="27" y="285.4" text-anchor="end" class="tk">0</text>
<text x="27" y="212.11" text-anchor="end" class="tk">2</text>
<text x="27" y="138.83" text-anchor="end" class="tk">4</text>
<text x="27" y="65.54" text-anchor="end" class="tk">6</text>
<text x="66.57" y="292.9" text-anchor="middle" class="tk">6</text>
<text x="140.1" y="292.9" text-anchor="middle" class="tk">8</text>
<text x="213.63" y="292.9" text-anchor="middle" class="tk">10</text>
<text x="140" y="303.5" text-anchor="middle" class="ax">x (m)</text>
<text transform="translate(12.2,153.9) rotate(-90)" text-anchor="middle" class="ax">z (m)</text>

<!-- panel (b) -->
<text x="432.3" y="12.4" text-anchor="middle" class="tt">(b) Estimated D</text>
<g clip-path="url(#dr)"><g filter="url(#soft)">
<rect x="323.7" y="25.5" width="220.7" height="256.5" fill="#2166ac"/>
<rect x="320.7" y="22.5" width="58.78" height="12.76" fill="#a9cfe6"/>
<rect x="378.88" y="22.5" width="37.38" height="12.76" fill="#d4e6f1"/>
<rect x="415.66" y="22.5" width="55.78" height="12.76" fill="#ecf2f6"/>
<rect x="470.83" y="22.5" width="77.17" height="12.76" fill="#faede6"/>
<rect x="320.7" y="34.66" width="21.99" height="9.76" fill="#6fadd4"/>
<rect x="342.09" y="34.66" width="37.38" height="9.76" fill="#a9cfe6"/>
<rect x="378.88" y="34.66" width="37.38" height="9.76" fill="#d4e6f1"/>
<rect x="415.66" y="34.66" width="55.78" height="9.76" fill="#ecf2f6"/>
<rect x="470.83" y="34.66" width="77.17" height="9.76" fill="#faede6"/>
<rect x="320.7" y="43.82" width="40.38" height="9.76" fill="#6fadd4"/>
<rect x="360.48" y="43.82" width="18.99" height="9.76" fill="#a9cfe6"/>
<rect x="378.88" y="43.82" width="37.38" height="9.76" fill="#d4e6f1"/>
<rect x="415.66" y="43.82" width="37.38" height="9.76" fill="#ecf2f6"/>
<rect x="452.44" y="43.82" width="74.17" height="9.76" fill="#faede6"/>
<rect x="526.01" y="43.82" width="21.99" height="9.76" fill="#ecf2f6"/>
<rect x="320.7" y="52.98" width="21.99" height="9.76" fill="#4489c2"/>
<rect x="342.09" y="52.98" width="37.38" height="9.76" fill="#6fadd4"/>
<rect x="378.88" y="52.98" width="18.99" height="9.76" fill="#d4e6f1"/>
<rect x="397.27" y="52.98" width="37.38" height="9.76" fill="#ecf2f6"/>
<rect x="434.05" y="52.98" width="92.56" height="9.76" fill="#faede6"/>
<rect x="526.01" y="52.98" width="21.99" height="9.76" fill="#ecf2f6"/>
<rect x="320.7" y="62.14" width="40.38" height="9.76" fill="#4489c2"/>
<rect x="360.48" y="62.14" width="37.38" height="9.76" fill="#6fadd4"/>
<rect x="397.27" y="62.14" width="18.99" height="9.76" fill="#d4e6f1"/>
<rect x="415.66" y="62.14" width="18.99" height="9.76" fill="#ecf2f6"/>
<rect x="434.05" y="62.14" width="18.99" height="9.76" fill="#faede6"/>
<rect x="452.44" y="62.14" width="37.38" height="9.76" fill="#fddfcf"/>
<rect x="489.22" y="62.14" width="18.99" height="9.76" fill="#faede6"/>
<rect x="507.62" y="62.14" width="18.99" height="9.76" fill="#ecf2f6"/>
<rect x="526.01" y="62.14" width="21.99" height="9.76" fill="#a9cfe6"/>
<rect x="320.7" y="71.3" width="21.99" height="9.76" fill="#2166ac"/>
<rect x="342.09" y="71.3" width="18.99" height="9.76" fill="#4489c2"/>
<rect x="360.48" y="71.3" width="37.38" height="9.76" fill="#6fadd4"/>
<rect x="397.27" y="71.3" width="18.99" height="9.76" fill="#a9cfe6"/>
<rect x="415.66" y="71.3" width="18.99" height="9.76" fill="#ecf2f6"/>
<rect x="434.05" y="71.3" width="18.99" height="9.76" fill="#faede6"/>
<rect x="452.44" y="71.3" width="37.38" height="9.76" fill="#fddfcf"/>
<rect x="489.22" y="71.3" width="18.99" height="9.76" fill="#faede6"/>
<rect x="507.62" y="71.3" width="18.99" height="9.76" fill="#ecf2f6"/>
<rect x="526.01" y="71.3" width="21.99" height="9.76" fill="#6fadd4"/>
<rect x="320.7" y="80.46" width="21.99" height="9.76" fill="#2166ac"/>
<rect x="342.09" y="80.46" width="18.99" height="9.76" fill="#4489c2"/>
<rect x="360.48" y="80.46" width="18.99" height="9.76" fill="#6fadd4"/>
<rect x="378.88" y="80.46" width="37.38" height="9.76" fill="#a9cfe6"/>
<rect x="415.66" y="80.46" width="18.99" height="9.76" fill="#ecf2f6"/>
<rect x="434.05" y="80.46" width="18.99" height="9.76" fill="#faede6"/>
<rect x="452.44" y="80.46" width="55.78" height="9.76" fill="#fddfcf"/>
<rect x="507.62" y="80.46" width="18.99" height="9.76" fill="#faede6"/>
<rect x="526.01" y="80.46" width="21.99" height="9.76" fill="#d4e6f1"/>
<rect x="320.7" y="89.62" width="21.99" height="9.76" fill="#2166ac"/>
<rect x="342.09" y="89.62" width="18.99" height="9.76" fill="#4489c2"/>
<rect x="360.48" y="89.62" width="18.99" height="9.76" fill="#6fadd4"/>
<rect x="378.88" y="89.62" width="18.99" height="9.76" fill="#a9cfe6"/>
<rect x="397.27" y="89.62" width="18.99" height="9.76" fill="#d4e6f1"/>
<rect x="415.66" y="89.62" width="18.99" height="9.76" fill="#ecf2f6"/>
<rect x="434.05" y="89.62" width="18.99" height="9.76" fill="#fddfcf"/>
<rect x="452.44" y="89.62" width="37.38" height="9.76" fill="#f9bea2"/>
<rect x="489.22" y="89.62" width="18.99" height="9.76" fill="#f0936f"/>
<rect x="507.62" y="89.62" width="18.99" height="9.76" fill="#f9bea2"/>
<rect x="526.01" y="89.62" width="21.99" height="9.76" fill="#fddfcf"/>
<rect x="320.7" y="98.79" width="21.99" height="9.76" fill="#2166ac"/>
<rect x="342.09" y="98.79" width="18.99" height="9.76" fill="#4489c2"/>
<rect x="360.48" y="98.79" width="18.99" height="9.76" fill="#6fadd4"/>
<rect x="378.88" y="98.79" width="18.99" height="9.76" fill="#d4e6f1"/>
<rect x="397.27" y="98.79" width="18.99" height="9.76" fill="#ecf2f6"/>
<rect x="415.66" y="98.79" width="18.99" height="9.76" fill="#faede6"/>
<rect x="434.05" y="98.79" width="18.99" height="9.76" fill="#fddfcf"/>
<rect x="452.44" y="98.79" width="18.99" height="9.76" fill="#f0936f"/>
<rect x="470.83" y="98.79" width="18.99" height="9.76" fill="#d75949"/>
<rect x="489.22" y="98.79" width="58.78" height="9.76" fill="#b2182b"/>
<rect x="320.7" y="107.95" width="21.99" height="9.76" fill="#2166ac"/>
<rect x="342.09" y="107.95" width="18.99" height="9.76" fill="#4489c2"/>
<rect x="360.48" y="107.95" width="18.99" height="9.76" fill="#a9cfe6"/>
<rect x="378.88" y="107.95" width="18.99" height="9.76" fill="#ecf2f6"/>
<rect x="397.27" y="107.95" width="18.99" height="9.76" fill="#fddfcf"/>
<rect x="415.66" y="107.95" width="18.99" height="9.76" fill="#f9bea2"/>
<rect x="434.05" y="107.95" width="18.99" height="9.76" fill="#f0936f"/>
<rect x="452.44" y="107.95" width="37.38" height="9.76" fill="#b2182b"/>
<rect x="489.22" y="107.95" width="37.38" height="9.76" fill="#f0936f"/>
<rect x="526.01" y="107.95" width="21.99" height="9.76" fill="#f9bea2"/>
<rect x="320.7" y="117.11" width="21.99" height="9.76" fill="#4489c2"/>
<rect x="342.09" y="117.11" width="18.99" height="9.76" fill="#a9cfe6"/>
<rect x="360.48" y="117.11" width="18.99" height="9.76" fill="#ecf2f6"/>
<rect x="378.88" y="117.11" width="18.99" height="9.76" fill="#faede6"/>
<rect x="397.27" y="117.11" width="18.99" height="9.76" fill="#f9bea2"/>
<rect x="415.66" y="117.11" width="18.99" height="9.76" fill="#f0936f"/>
<rect x="434.05" y="117.11" width="18.99" height="9.76" fill="#b2182b"/>
<rect x="452.44" y="117.11" width="18.99" height="9.76" fill="#f0936f"/>
<rect x="470.83" y="117.11" width="18.99" height="9.76" fill="#f9bea2"/>
<rect x="489.22" y="117.11" width="37.38" height="9.76" fill="#fddfcf"/>
<rect x="526.01" y="117.11" width="21.99" height="9.76" fill="#faede6"/>
<rect x="320.7" y="126.27" width="21.99" height="9.76" fill="#a9cfe6"/>
<rect x="342.09" y="126.27" width="18.99" height="9.76" fill="#d4e6f1"/>
<rect x="360.48" y="126.27" width="18.99" height="9.76" fill="#faede6"/>
<rect x="378.88" y="126.27" width="18.99" height="9.76" fill="#f9bea2"/>
<rect x="397.27" y="126.27" width="37.38" height="9.76" fill="#d75949"/>
<rect x="434.05" y="126.27" width="18.99" height="9.76" fill="#f0936f"/>
<rect x="452.44" y="126.27" width="18.99" height="9.76" fill="#fddfcf"/>
<rect x="470.83" y="126.27" width="37.38" height="9.76" fill="#faede6"/>
<rect x="507.62" y="126.27" width="40.38" height="9.76" fill="#d4e6f1"/>
<rect x="320.7" y="135.43" width="21.99" height="9.76" fill="#ecf2f6"/>
<rect x="342.09" y="135.43" width="18.99" height="9.76" fill="#faede6"/>
<rect x="360.48" y="135.43" width="18.99" height="9.76" fill="#f9bea2"/>
<rect x="378.88" y="135.43" width="18.99" height="9.76" fill="#d75949"/>
<rect x="397.27" y="135.43" width="18.99" height="9.76" fill="#f0936f"/>
<rect x="415.66" y="135.43" width="18.99" height="9.76" fill="#f9bea2"/>
<rect x="434.05" y="135.43" width="18.99" height="9.76" fill="#fddfcf"/>
<rect x="452.44" y="135.43" width="18.99" height="9.76" fill="#faede6"/>
<rect x="470.83" y="135.43" width="18.99" height="9.76" fill="#ecf2f6"/>
<rect x="489.22" y="135.43" width="18.99" height="9.76" fill="#d4e6f1"/>
<rect x="507.62" y="135.43" width="18.99" height="9.76" fill="#a9cfe6"/>
<rect x="526.01" y="135.43" width="21.99" height="9.76" fill="#6fadd4"/>
<rect x="320.7" y="144.59" width="21.99" height="9.76" fill="#faede6"/>
<rect x="342.09" y="144.59" width="18.99" height="9.76" fill="#f9bea2"/>
<rect x="360.48" y="144.59" width="18.99" height="9.76" fill="#f0936f"/>
<rect x="378.88" y="144.59" width="18.99" height="9.76" fill="#f9bea2"/>
<rect x="397.27" y="144.59" width="18.99" height="9.76" fill="#fddfcf"/>
<rect x="415.66" y="144.59" width="18.99" height="9.76" fill="#faede6"/>
<rect x="434.05" y="144.59" width="18.99" height="9.76" fill="#ecf2f6"/>
<rect x="452.44" y="144.59" width="18.99" height="9.76" fill="#d4e6f1"/>
<rect x="470.83" y="144.59" width="18.99" height="9.76" fill="#a9cfe6"/>
<rect x="489.22" y="144.59" width="18.99" height="9.76" fill="#6fadd4"/>
<rect x="507.62" y="144.59" width="18.99" height="9.76" fill="#4489c2"/>
<rect x="526.01" y="144.59" width="21.99" height="9.76" fill="#2166ac"/>
<rect x="320.7" y="153.75" width="40.38" height="9.76" fill="#f9bea2"/>
<rect x="360.48" y="153.75" width="18.99" height="9.76" fill="#faede6"/>
<rect x="378.88" y="153.75" width="37.38" height="9.76" fill="#ecf2f6"/>
<rect x="415.66" y="153.75" width="18.99" height="9.76" fill="#d4e6f1"/>
<rect x="434.05" y="153.75" width="18.99" height="9.76" fill="#a9cfe6"/>
<rect x="452.44" y="153.75" width="37.38" height="9.76" fill="#6fadd4"/>
<rect x="489.22" y="153.75" width="18.99" height="9.76" fill="#4489c2"/>
<rect x="507.62" y="153.75" width="40.38" height="9.76" fill="#2166ac"/>
<rect x="320.7" y="162.91" width="21.99" height="9.76" fill="#f9bea2"/>
<rect x="342.09" y="162.91" width="18.99" height="9.76" fill="#faede6"/>
<rect x="360.48" y="162.91" width="18.99" height="9.76" fill="#d4e6f1"/>
<rect x="378.88" y="162.91" width="55.77" height="9.76" fill="#a9cfe6"/>
<rect x="434.05" y="162.91" width="18.99" height="9.76" fill="#6fadd4"/>
<rect x="452.44" y="162.91" width="18.99" height="9.76" fill="#4489c2"/>
<rect x="470.83" y="162.91" width="77.17" height="9.76" fill="#2166ac"/>
<rect x="320.7" y="172.07" width="58.78" height="9.76" fill="#6fadd4"/>
<rect x="378.88" y="172.07" width="74.17" height="9.76" fill="#4489c2"/>
<rect x="452.44" y="172.07" width="95.56" height="9.76" fill="#2166ac"/>
<rect x="320.7" y="181.23" width="40.38" height="9.76" fill="#2166ac"/>
<rect x="360.48" y="181.23" width="18.99" height="9.76" fill="#4489c2"/>
<rect x="378.88" y="181.23" width="37.38" height="9.76" fill="#2166ac"/>
<rect x="415.66" y="181.23" width="18.99" height="9.76" fill="#4489c2"/>
<rect x="434.05" y="181.23" width="113.95" height="9.76" fill="#2166ac"/>
<rect x="320.7" y="190.39" width="40.38" height="9.76" fill="#2166ac"/>
<rect x="360.48" y="190.39" width="18.99" height="9.76" fill="#4489c2"/>
<rect x="378.88" y="190.39" width="18.99" height="9.76" fill="#6fadd4"/>
<rect x="397.27" y="190.39" width="150.73" height="9.76" fill="#2166ac"/>
<rect x="320.7" y="199.55" width="21.99" height="9.76" fill="#2166ac"/>
<rect x="342.09" y="199.55" width="18.99" height="9.76" fill="#4489c2"/>
<rect x="360.48" y="199.55" width="18.99" height="9.76" fill="#6fadd4"/>
<rect x="378.88" y="199.55" width="18.99" height="9.76" fill="#4489c2"/>
<rect x="397.27" y="199.55" width="18.99" height="9.76" fill="#2166ac"/>
<rect x="415.66" y="199.55" width="55.78" height="9.76" fill="#4489c2"/>
<rect x="470.83" y="199.55" width="77.17" height="9.76" fill="#2166ac"/>
<rect x="320.7" y="208.71" width="21.99" height="9.76" fill="#2166ac"/>
<rect x="342.09" y="208.71" width="18.99" height="9.76" fill="#4489c2"/>
<rect x="360.48" y="208.71" width="18.99" height="9.76" fill="#a9cfe6"/>
<rect x="378.88" y="208.71" width="18.99" height="9.76" fill="#6fadd4"/>
<rect x="397.27" y="208.71" width="18.99" height="9.76" fill="#4489c2"/>
<rect x="415.66" y="208.71" width="37.38" height="9.76" fill="#6fadd4"/>
<rect x="452.44" y="208.71" width="95.56" height="9.76" fill="#4489c2"/>
<rect x="320.7" y="217.88" width="40.38" height="9.76" fill="#2166ac"/>
<rect x="360.48" y="217.88" width="18.99" height="9.76" fill="#6fadd4"/>
<rect x="378.88" y="217.88" width="18.99" height="9.76" fill="#d4e6f1"/>
<rect x="397.27" y="217.88" width="55.78" height="9.76" fill="#a9cfe6"/>
<rect x="452.44" y="217.88" width="37.38" height="9.76" fill="#6fadd4"/>
<rect x="489.22" y="217.88" width="18.99" height="9.76" fill="#4489c2"/>
<rect x="507.62" y="217.88" width="40.38" height="9.76" fill="#2166ac"/>
<rect x="320.7" y="227.04" width="40.38" height="9.76" fill="#2166ac"/>
<rect x="360.48" y="227.04" width="18.99" height="9.76" fill="#6fadd4"/>
<rect x="378.88" y="227.04" width="18.99" height="9.76" fill="#d4e6f1"/>
<rect x="397.27" y="227.04" width="37.38" height="9.76" fill="#ecf2f6"/>
<rect x="434.05" y="227.04" width="18.99" height="9.76" fill="#d4e6f1"/>
<rect x="452.44" y="227.04" width="18.99" height="9.76" fill="#a9cfe6"/>
<rect x="470.83" y="227.04" width="18.99" height="9.76" fill="#6fadd4"/>
<rect x="489.22" y="227.04" width="18.99" height="9.76" fill="#4489c2"/>
<rect x="507.62" y="227.04" width="40.38" height="9.76" fill="#2166ac"/>
<rect x="320.7" y="236.2" width="21.99" height="9.76" fill="#2166ac"/>
<rect x="342.09" y="236.2" width="18.99" height="9.76" fill="#4489c2"/>
<rect x="360.48" y="236.2" width="18.99" height="9.76" fill="#6fadd4"/>
<rect x="378.88" y="236.2" width="18.99" height="9.76" fill="#a9cfe6"/>
<rect x="397.27" y="236.2" width="37.38" height="9.76" fill="#d4e6f1"/>
<rect x="434.05" y="236.2" width="37.38" height="9.76" fill="#a9cfe6"/>
<rect x="470.83" y="236.2" width="18.99" height="9.76" fill="#6fadd4"/>
<rect x="489.22" y="236.2" width="18.99" height="9.76" fill="#4489c2"/>
<rect x="507.62" y="236.2" width="40.38" height="9.76" fill="#2166ac"/>
<rect x="320.7" y="245.36" width="21.99" height="9.76" fill="#4489c2"/>
<rect x="342.09" y="245.36" width="37.38" height="9.76" fill="#6fadd4"/>
<rect x="378.88" y="245.36" width="74.17" height="9.76" fill="#a9cfe6"/>
<rect x="452.44" y="245.36" width="37.38" height="9.76" fill="#6fadd4"/>
<rect x="489.22" y="245.36" width="37.38" height="9.76" fill="#4489c2"/>
<rect x="526.01" y="245.36" width="21.99" height="9.76" fill="#2166ac"/>
<rect x="320.7" y="254.52" width="77.17" height="9.76" fill="#6fadd4"/>
<rect x="397.27" y="254.52" width="55.78" height="9.76" fill="#a9cfe6"/>
<rect x="452.44" y="254.52" width="55.78" height="9.76" fill="#6fadd4"/>
<rect x="507.62" y="254.52" width="40.38" height="9.76" fill="#4489c2"/>
<rect x="320.7" y="263.68" width="187.52" height="9.76" fill="#6fadd4"/>
<rect x="507.62" y="263.68" width="40.38" height="9.76" fill="#4489c2"/>
<rect x="320.7" y="272.84" width="187.52" height="12.76" fill="#6fadd4"/>
<rect x="507.62" y="272.84" width="40.38" height="12.76" fill="#4489c2"/>
</g></g>
<circle cx="323.7" cy="245.36" r="4.8" fill="#fff" stroke="#555" stroke-width="0.8" clip-path="url(#cr)"/>
<circle cx="323.7" cy="208.71" r="4.8" fill="#fff" stroke="#555" stroke-width="0.8" clip-path="url(#cr)"/>
<circle cx="323.7" cy="172.07" r="4.8" fill="#fff" stroke="#555" stroke-width="0.8" clip-path="url(#cr)"/>
<circle cx="323.7" cy="135.43" r="4.8" fill="#fff" stroke="#555" stroke-width="0.8" clip-path="url(#cr)"/>
<circle cx="323.7" cy="98.79" r="4.8" fill="#fff" stroke="#555" stroke-width="0.8" clip-path="url(#cr)"/>
<circle cx="323.7" cy="62.14" r="4.8" fill="#fff" stroke="#555" stroke-width="0.8" clip-path="url(#cr)"/>
<circle cx="544.4" cy="245.36" r="4.8" fill="#fff" stroke="#555" stroke-width="0.8" clip-path="url(#cr)"/>
<circle cx="544.4" cy="208.71" r="4.8" fill="#fff" stroke="#555" stroke-width="0.8" clip-path="url(#cr)"/>
<circle cx="544.4" cy="172.07" r="4.8" fill="#fff" stroke="#555" stroke-width="0.8" clip-path="url(#cr)"/>
<circle cx="544.4" cy="135.43" r="4.8" fill="#fff" stroke="#555" stroke-width="0.8" clip-path="url(#cr)"/>
<circle cx="544.4" cy="98.79" r="4.8" fill="#fff" stroke="#555" stroke-width="0.8" clip-path="url(#cr)"/>
<circle cx="544.4" cy="62.14" r="4.8" fill="#fff" stroke="#555" stroke-width="0.8" clip-path="url(#cr)"/>
<rect x="323.7" y="25.5" width="220.7" height="256.5" fill="none" stroke="#1c1c1c" stroke-width="1.5" rx="1.5"/>
<text x="320.8" y="285.4" text-anchor="end" class="tk">0</text>
<text x="320.8" y="212.11" text-anchor="end" class="tk">2</text>
<text x="320.8" y="138.83" text-anchor="end" class="tk">4</text>
<text x="320.8" y="65.54" text-anchor="end" class="tk">6</text>
<text x="360.48" y="292.9" text-anchor="middle" class="tk">6</text>
<text x="434.05" y="292.9" text-anchor="middle" class="tk">8</text>
<text x="507.62" y="292.9" text-anchor="middle" class="tk">10</text>
<text x="434" y="303.5" text-anchor="middle" class="ax">x (m)</text>
<text transform="translate(306,153.9) rotate(-90)" text-anchor="middle" class="ax">z (m)</text>

<!-- colourbar -->
<rect x="168.3" y="326.3" width="10.7" height="14.2" fill="#2166ac"/>
<rect x="178.95" y="326.3" width="21.35" height="14.2" fill="#4489c2"/>
<rect x="200.25" y="326.3" width="21.35" height="14.2" fill="#6fadd4"/>
<rect x="221.55" y="326.3" width="21.35" height="14.2" fill="#a9cfe6"/>
<rect x="242.85" y="326.3" width="21.35" height="14.2" fill="#d4e6f1"/>
<rect x="264.15" y="326.3" width="21.35" height="14.2" fill="#ecf2f6"/>
<rect x="285.45" y="326.3" width="21.35" height="14.2" fill="#faede6"/>
<rect x="306.75" y="326.3" width="21.35" height="14.2" fill="#fddfcf"/>
<rect x="328.05" y="326.3" width="21.35" height="14.2" fill="#f9bea2"/>
<rect x="349.35" y="326.3" width="21.35" height="14.2" fill="#f0936f"/>
<rect x="370.65" y="326.3" width="21.35" height="14.2" fill="#d75949"/>
<rect x="391.95" y="326.3" width="10.7" height="14.2" fill="#b2182b"/>
<line x1="178.95" y1="326.3" x2="178.95" y2="340.5" stroke="#555" stroke-width="0.4" stroke-opacity="0.6"/>
<line x1="200.25" y1="326.3" x2="200.25" y2="340.5" stroke="#555" stroke-width="0.4" stroke-opacity="0.6"/>
<line x1="221.55" y1="326.3" x2="221.55" y2="340.5" stroke="#555" stroke-width="0.4" stroke-opacity="0.6"/>
<line x1="242.85" y1="326.3" x2="242.85" y2="340.5" stroke="#555" stroke-width="0.4" stroke-opacity="0.6"/>
<line x1="264.15" y1="326.3" x2="264.15" y2="340.5" stroke="#555" stroke-width="0.4" stroke-opacity="0.6"/>
<line x1="285.45" y1="326.3" x2="285.45" y2="340.5" stroke="#555" stroke-width="0.4" stroke-opacity="0.6"/>
<line x1="306.75" y1="326.3" x2="306.75" y2="340.5" stroke="#555" stroke-width="0.4" stroke-opacity="0.6"/>
<line x1="328.05" y1="326.3" x2="328.05" y2="340.5" stroke="#555" stroke-width="0.4" stroke-opacity="0.6"/>
<line x1="349.35" y1="326.3" x2="349.35" y2="340.5" stroke="#555" stroke-width="0.4" stroke-opacity="0.6"/>
<line x1="370.65" y1="326.3" x2="370.65" y2="340.5" stroke="#555" stroke-width="0.4" stroke-opacity="0.6"/>
<line x1="391.95" y1="326.3" x2="391.95" y2="340.5" stroke="#555" stroke-width="0.4" stroke-opacity="0.6"/>
<text x="178.95" y="352.7" text-anchor="middle" class="cl">0.5</text>
<text x="200.25" y="352.7" text-anchor="middle" class="cl">0.7</text>
<text x="221.55" y="352.7" text-anchor="middle" class="cl">1.0</text>
<text x="242.85" y="352.7" text-anchor="middle" class="cl">1.4</text>
<text x="264.15" y="352.7" text-anchor="middle" class="cl">1.9</text>
<text x="285.45" y="352.7" text-anchor="middle" class="cl">2.7</text>
<text x="306.75" y="352.7" text-anchor="middle" class="cl">3.8</text>
<text x="328.05" y="352.7" text-anchor="middle" class="cl">5.4</text>
<text x="349.35" y="352.7" text-anchor="middle" class="cl">7.6</text>
<text x="370.65" y="352.7" text-anchor="middle" class="cl">10.7</text>
<text x="391.95" y="352.7" text-anchor="middle" class="cl">15.0</text>
<rect x="168.3" y="326.3" width="234.3" height="14.2" fill="none" stroke="#666" stroke-width="0.4" stroke-opacity="0.5"/>
<text x="285.8" y="369.7" text-anchor="middle" class="cb">D (m<tspan dy="-3.6" font-size="6.8">2</tspan><tspan dy="3.6">/s)</tspan></text>
</svg>
</body>
</html>
